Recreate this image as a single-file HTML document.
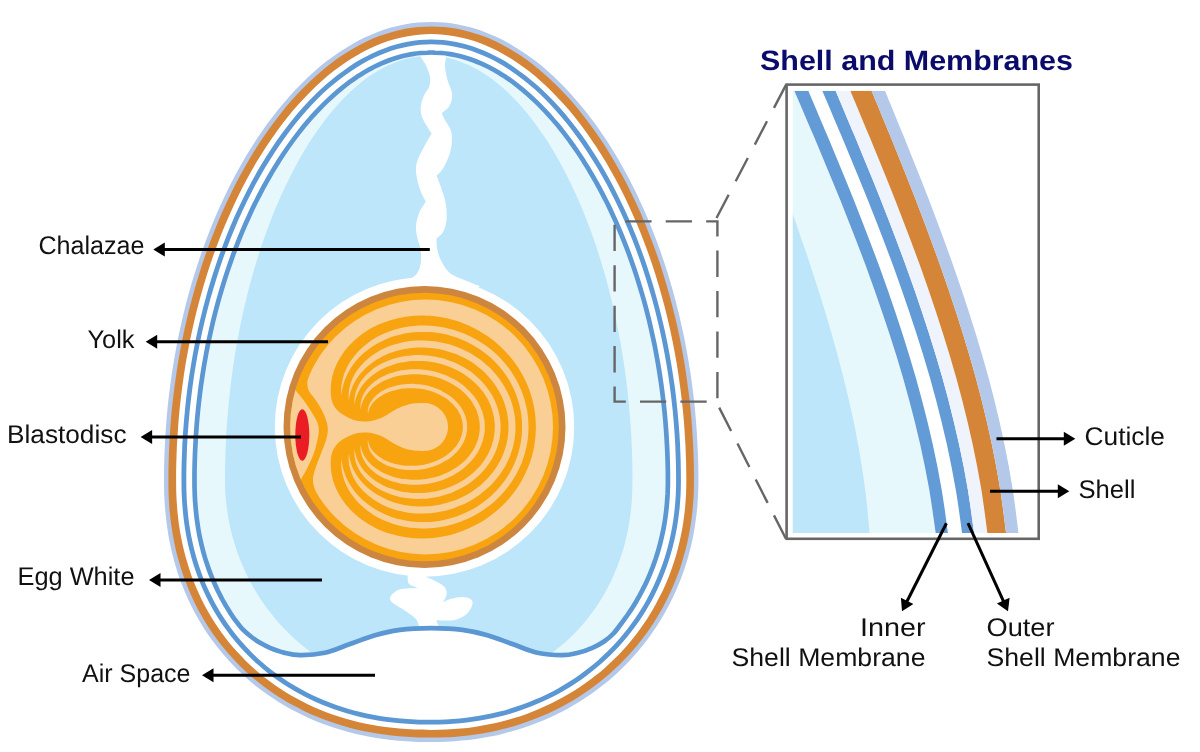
<!DOCTYPE html><html><head><meta charset="utf-8"><title>Egg</title><style>html,body{margin:0;padding:0;background:#fff}svg{display:block;will-change:transform}text{font-family:"Liberation Sans",sans-serif;text-rendering:geometricPrecision}</style></head><body>
<svg width="1200" height="752" viewBox="0 0 1200 752">
<rect width="1200" height="752" fill="#fff"/>
<defs><clipPath id="ce"><path d="M698.4,480C698.4,473.4 698.3,464 698,456C697.7,448.1 697.3,440.1 696.8,432.1C696.3,424.2 695.6,416.2 694.9,408.4C694.1,400.5 693.2,392.6 692.1,384.8C691.1,377 689.9,369.2 688.6,361.5C687.3,353.7 685.9,346.1 684.4,338.5C682.8,330.9 681.1,323.3 679.4,315.9C677.6,308.4 675.7,301 673.7,293.7C671.7,286.4 669.5,279.2 667.3,272.1C665.1,265 662.7,257.9 660.3,251C657.8,244.1 655.3,237.3 652.6,230.6C650,223.9 647.2,217.3 644.4,210.8C641.5,204.3 638.6,198 635.6,191.8C632.5,185.6 629.4,179.5 626.2,173.5C623,167.6 619.7,161.8 616.4,156.1C613,150.5 609.6,145 606,139.6C602.5,134.3 598.9,129.1 595.3,124.1C591.6,119 587.9,114.2 584.1,109.5C580.4,104.8 576.5,100.2 572.6,95.9C568.7,91.5 564.8,87.4 560.8,83.4C556.8,79.4 552.7,75.5 548.7,71.9C544.6,68.3 540.4,64.8 536.3,61.6C532.1,58.3 527.9,55.3 523.6,52.4C519.4,49.6 515.1,46.9 510.8,44.4C506.5,41.9 502.1,39.7 497.8,37.6C493.4,35.5 489,33.7 484.6,32C480.2,30.3 475.8,28.9 471.4,27.6C466.9,26.4 462.5,25.3 458,24.5C453.6,23.7 449.1,23 444.6,22.6C440.2,22.2 435.7,22 431.2,22C426.7,22 422.2,22.2 417.8,22.6C413.3,23 408.8,23.7 404.4,24.5C399.9,25.3 395.5,26.4 391,27.6C386.6,28.9 382.2,30.3 377.8,32C373.4,33.7 369,35.5 364.6,37.6C360.3,39.7 355.9,41.9 351.6,44.4C347.3,46.9 343,49.6 338.8,52.4C334.5,55.3 330.3,58.3 326.1,61.6C322,64.8 317.8,68.3 313.7,71.9C309.7,75.5 305.6,79.4 301.6,83.4C297.6,87.4 293.7,91.5 289.8,95.9C285.9,100.2 282,104.8 278.3,109.5C274.5,114.2 270.8,119 267.1,124.1C263.5,129.1 259.9,134.3 256.4,139.6C252.8,145 249.4,150.5 246,156.1C242.7,161.8 239.4,167.6 236.2,173.5C233,179.5 229.9,185.6 226.8,191.8C223.8,198 220.9,204.3 218,210.8C215.2,217.3 212.4,223.9 209.8,230.6C207.1,237.3 204.6,244.1 202.1,251C199.7,257.9 197.3,265 195.1,272.1C192.9,279.2 190.7,286.4 188.7,293.7C186.7,301 184.8,308.4 183,315.9C181.3,323.3 179.6,330.9 178,338.5C176.5,346.1 175.1,353.7 173.8,361.5C172.5,369.2 171.3,377 170.3,384.8C169.2,392.6 168.3,400.5 167.5,408.4C166.8,416.2 166.1,424.2 165.6,432.1C165.1,440.1 164.7,448.1 164.4,456C164.1,464 164,473.2 164,480C164,486.8 164.1,491.5 164.3,496.8C164.6,502.2 164.9,507.1 165.4,512.1C165.8,517 166.4,521.9 167.1,526.6C167.7,531.4 168.5,536.1 169.4,540.8C170.3,545.4 171.4,550 172.5,554.5C173.6,559 174.8,563.5 176.2,567.9C177.5,572.3 179,576.6 180.5,580.9C182.1,585.1 183.8,589.3 185.6,593.5C187.3,597.6 189.2,601.7 191.2,605.7C193.2,609.7 195.3,613.6 197.5,617.5C199.7,621.4 201.9,625.2 204.3,628.9C206.7,632.6 209.2,636.2 211.8,639.8C214.4,643.4 217.1,646.9 219.9,650.3C222.6,653.7 225.5,657 228.5,660.3C231.4,663.5 234.5,666.7 237.6,669.8C240.8,672.9 244,675.9 247.3,678.8C250.6,681.7 254,684.5 257.5,687.2C261,689.9 264.6,692.6 268.2,695.1C271.9,697.7 275.6,700.1 279.4,702.4C283.2,704.8 287,707 291,709.2C294.9,711.3 298.9,713.4 303,715.3C307.1,717.3 311.3,719.1 315.5,720.9C319.7,722.6 324,724.2 328.3,725.8C332.7,727.3 337.1,728.7 341.6,730.1C346.1,731.4 350.6,732.6 355.2,733.7C359.8,734.8 364.5,735.8 369.2,736.7C373.9,737.6 378.7,738.3 383.6,739C388.5,739.7 393.4,740.2 398.5,740.7C403.6,741.1 408.6,741.4 414,741.7C419.5,741.9 425.7,742 431.2,742C436.7,742 441.8,741.9 446.9,741.7C451.9,741.4 456.8,741.1 461.7,740.6C466.5,740.2 471.3,739.6 476.1,738.9C480.8,738.2 485.6,737.4 490.2,736.5C494.9,735.6 499.5,734.5 504,733.4C508.6,732.3 513.1,731 517.6,729.7C522,728.3 526.5,726.8 530.8,725.2C535.2,723.7 539.5,722 543.7,720.2C547.9,718.4 552.1,716.5 556.2,714.5C560.4,712.5 564.4,710.4 568.4,708.2C572.4,705.9 576.3,703.6 580.2,701.2C584,698.8 587.8,696.3 591.5,693.7C595.2,691.1 598.8,688.4 602.4,685.6C605.9,682.8 609.4,679.9 612.8,676.9C616.2,674 619.5,670.9 622.7,667.7C625.9,664.6 629,661.4 632,658C635.1,654.7 638,651.3 640.9,647.8C643.7,644.4 646.5,640.8 649.1,637.2C651.8,633.6 654.4,629.8 656.8,626.1C659.3,622.3 661.6,618.4 663.9,614.5C666.1,610.6 668.3,606.7 670.3,602.6C672.4,598.6 674.3,594.5 676.1,590.3C678,586.2 679.7,581.9 681.3,577.7C682.9,573.4 684.4,569.1 685.8,564.7C687.2,560.3 688.5,555.9 689.6,551.4C690.8,547 691.9,542.4 692.8,537.9C693.7,533.3 694.5,528.7 695.2,524C695.9,519.4 696.5,514.6 697,509.9C697.5,505.1 697.8,500.3 698,495.4C698.3,490.4 698.4,486.6 698.4,480Z"/></clipPath><clipPath id="cm"><path d="M622.2,622.3C624.4,619.4 625.3,618.1 626.8,616C628.3,613.8 629.8,611.6 631.3,609.4C632.7,607.2 634.1,605 635.5,602.7C636.8,600.5 638.1,598.2 639.4,595.9C640.7,593.5 641.9,591.2 643.1,588.8C644.3,586.5 645.5,584.1 646.6,581.7C647.7,579.3 648.8,576.8 649.8,574.4C650.8,571.9 651.8,569.4 652.8,566.9C653.7,564.4 654.6,561.9 655.5,559.3C656.3,556.8 657.2,554.2 657.9,551.6C658.7,549 659.4,546.4 660.1,543.8C660.8,541.1 661.4,538.5 662,535.8C662.6,533.1 663.2,530.4 663.7,527.7C664.2,525 664.7,522.2 665.1,519.5C665.5,516.7 665.9,513.9 666.2,511.1C666.5,508.3 666.8,505.5 667,502.6C667.3,499.7 667.4,496.9 667.6,493.9C667.7,491 667.8,488.5 667.9,484.9C667.9,481.3 667.9,477 667.9,472.3C667.8,467.7 667.7,462.1 667.5,457C667.4,451.9 667.1,446.8 666.8,441.8C666.6,436.7 666.2,431.6 665.8,426.5C665.5,421.5 665,416.4 664.5,411.4C664,406.3 663.4,401.3 662.8,396.3C662.2,391.3 661.6,386.3 660.8,381.3C660.1,376.4 659.3,371.4 658.5,366.5C657.7,361.6 656.8,356.7 655.9,351.8C655,346.9 654,342.1 652.9,337.3C651.9,332.5 650.8,327.7 649.7,322.9C648.6,318.2 647.4,313.5 646.2,308.8C644.9,304.1 643.7,299.5 642.3,294.9C641,290.3 639.6,285.7 638.2,281.2C636.8,276.7 635.3,272.2 633.8,267.8C632.3,263.4 630.8,259 629.2,254.6C627.6,250.3 625.9,246 624.3,241.8C622.6,237.5 620.9,233.4 619.1,229.2C617.4,225.1 615.6,221 613.7,217C611.9,213 610.1,209 608.2,205.1C606.2,201.2 604.3,197.4 602.3,193.6C600.4,189.9 598.4,186.1 596.3,182.5C594.3,178.8 592.2,175.3 590.1,171.7C588.1,168.2 585.9,164.8 583.8,161.4C581.6,158 579.5,154.7 577.3,151.5C575.1,148.2 572.9,145.1 570.6,142C568.4,138.9 566.1,135.9 563.8,132.9C561.5,130 559.2,127.1 556.9,124.3C554.6,121.6 552.3,118.9 549.9,116.2C547.5,113.6 545.2,111 542.8,108.6C540.4,106.1 538,103.7 535.6,101.4C533.2,99.1 530.8,96.9 528.4,94.7C526,92.6 523.6,90.5 521.2,88.6C518.7,86.6 516.3,84.7 513.9,82.9C511.4,81.1 509,79.3 506.6,77.7C504.1,76.1 501.7,74.5 499.3,73C496.8,71.6 494.4,70.2 492,68.8C489.5,67.5 487.1,66.3 484.7,65.2C482.3,64 479.9,62.9 477.5,62C475.1,61 472.7,60.1 470.3,59.2C467.9,58.4 465.5,57.7 463.1,57C460.7,56.3 458.3,55.7 456,55.2C453.6,54.7 451.2,54.2 448.9,53.9C446.5,53.5 444.1,53.2 441.8,53C439.4,52.8 437.1,52.6 434.7,52.6C432.4,52.5 430,52.5 427.7,52.6C425.3,52.6 423,52.8 420.6,53C418.3,53.2 415.9,53.5 413.5,53.9C411.2,54.2 408.8,54.7 406.4,55.2C404.1,55.7 401.7,56.3 399.3,57C396.9,57.7 394.5,58.4 392.1,59.2C389.7,60.1 387.3,61 384.9,62C382.5,62.9 380.1,64 377.7,65.2C375.3,66.3 372.9,67.5 370.4,68.8C368,70.2 365.6,71.6 363.1,73C360.7,74.5 358.3,76.1 355.8,77.7C353.4,79.3 351,81.1 348.5,82.9C346.1,84.7 343.7,86.6 341.2,88.6C338.8,90.5 336.4,92.6 334,94.7C331.6,96.9 329.2,99.1 326.8,101.4C324.4,103.7 322,106.1 319.6,108.6C317.2,111 314.9,113.6 312.5,116.2C310.1,118.9 307.8,121.6 305.5,124.3C303.2,127.1 300.9,130 298.6,132.9C296.3,135.9 294,138.9 291.8,142C289.5,145.1 287.3,148.2 285.1,151.5C282.9,154.7 280.8,158 278.6,161.4C276.5,164.8 274.3,168.2 272.3,171.7C270.2,175.3 268.1,178.8 266.1,182.5C264,186.1 262,189.9 260.1,193.6C258.1,197.4 256.2,201.2 254.2,205.1C252.3,209 250.5,213 248.7,217C246.8,221 245,225.1 243.3,229.2C241.5,233.4 239.8,237.5 238.1,241.8C236.5,246 234.8,250.3 233.2,254.6C231.6,259 230.1,263.4 228.6,267.8C227.1,272.2 225.6,276.7 224.2,281.2C222.8,285.7 221.4,290.3 220.1,294.9C218.7,299.5 217.5,304.1 216.2,308.8C215,313.5 213.8,318.2 212.7,322.9C211.6,327.7 210.5,332.5 209.5,337.3C208.4,342.1 207.4,346.9 206.5,351.8C205.6,356.7 204.7,361.6 203.9,366.5C203.1,371.4 202.3,376.4 201.6,381.3C200.8,386.3 200.2,391.3 199.6,396.3C199,401.3 198.4,406.3 197.9,411.4C197.4,416.4 196.9,421.5 196.6,426.5C196.2,431.6 195.8,436.7 195.6,441.8C195.3,446.8 195,451.9 194.9,457C194.7,462.1 194.6,467.6 194.5,472.3C194.5,477.1 194.5,481.8 194.5,485.7C194.6,489.5 194.7,492.3 194.8,495.5C194.9,498.7 195.1,501.8 195.4,504.8C195.6,507.8 195.9,510.8 196.2,513.7C196.5,516.6 196.9,519.5 197.3,522.4C197.7,525.2 198.1,528 198.6,530.8C199.1,533.6 199.6,536.3 200.2,539.1C200.8,541.8 201.4,544.5 202.1,547.1C202.7,549.8 203.4,552.4 204.2,555C204.9,557.7 205.7,560.2 206.6,562.8C207.4,565.3 208.3,567.9 209.2,570.4C210.1,572.9 211.1,575.3 212.1,577.8C213.1,580.2 214.1,582.7 215.2,585C216.2,587.4 217.4,589.8 218.5,592.1C219.7,594.5 220.9,596.8 222.1,599.1C223.4,601.3 224.6,603.6 225.9,605.8C227.3,608 228.6,610.2 230,612.4C231.4,614.5 232.2,616 234.3,618.8C236.4,621.6 239.6,626.2 242.5,629.2C245.4,632.2 248.5,634.7 251.5,637C254.5,639.3 257.4,641.2 260.5,643C263.6,644.8 266.1,646.1 270,647.8C273.9,649.4 279,651.4 284,652.6C289,653.9 293.2,655.2 300,655.2C306.8,655.3 316.7,654.6 325,652.8C333.3,650.9 341.7,646.9 350,644C358.3,641.1 366.7,637.6 375,635.2C383.3,632.9 390.6,631 400,629.8C409.4,628.6 420.8,628.2 431.2,628.2C441.6,628.2 453,628.6 462.4,629.8C471.8,631 479.1,632.8 487.4,635.2C495.7,637.6 504.1,641.1 512.4,644C520.7,646.9 529.1,650.9 537.4,652.8C545.7,654.7 555.6,655.2 562.4,655.2C569.2,655.2 573,654 578,652.8C583,651.6 588.1,649.7 592.4,647.8C596.7,645.9 600.5,643.9 604,641.5C607.5,639.1 610.5,636.7 613.5,633.5C616.5,630.3 619.9,625.3 622.2,622.3Z"/></clipPath><clipPath id="cy"><circle cx="424.5" cy="427.0" r="134.3"/></clipPath><clipPath id="ci"><rect x="792.8" y="90.7" width="240" height="442.3"/></clipPath></defs>
<path d="M698.4,480C698.4,473.4 698.3,464 698,456C697.7,448.1 697.3,440.1 696.8,432.1C696.3,424.2 695.6,416.2 694.9,408.4C694.1,400.5 693.2,392.6 692.1,384.8C691.1,377 689.9,369.2 688.6,361.5C687.3,353.7 685.9,346.1 684.4,338.5C682.8,330.9 681.1,323.3 679.4,315.9C677.6,308.4 675.7,301 673.7,293.7C671.7,286.4 669.5,279.2 667.3,272.1C665.1,265 662.7,257.9 660.3,251C657.8,244.1 655.3,237.3 652.6,230.6C650,223.9 647.2,217.3 644.4,210.8C641.5,204.3 638.6,198 635.6,191.8C632.5,185.6 629.4,179.5 626.2,173.5C623,167.6 619.7,161.8 616.4,156.1C613,150.5 609.6,145 606,139.6C602.5,134.3 598.9,129.1 595.3,124.1C591.6,119 587.9,114.2 584.1,109.5C580.4,104.8 576.5,100.2 572.6,95.9C568.7,91.5 564.8,87.4 560.8,83.4C556.8,79.4 552.7,75.5 548.7,71.9C544.6,68.3 540.4,64.8 536.3,61.6C532.1,58.3 527.9,55.3 523.6,52.4C519.4,49.6 515.1,46.9 510.8,44.4C506.5,41.9 502.1,39.7 497.8,37.6C493.4,35.5 489,33.7 484.6,32C480.2,30.3 475.8,28.9 471.4,27.6C466.9,26.4 462.5,25.3 458,24.5C453.6,23.7 449.1,23 444.6,22.6C440.2,22.2 435.7,22 431.2,22C426.7,22 422.2,22.2 417.8,22.6C413.3,23 408.8,23.7 404.4,24.5C399.9,25.3 395.5,26.4 391,27.6C386.6,28.9 382.2,30.3 377.8,32C373.4,33.7 369,35.5 364.6,37.6C360.3,39.7 355.9,41.9 351.6,44.4C347.3,46.9 343,49.6 338.8,52.4C334.5,55.3 330.3,58.3 326.1,61.6C322,64.8 317.8,68.3 313.7,71.9C309.7,75.5 305.6,79.4 301.6,83.4C297.6,87.4 293.7,91.5 289.8,95.9C285.9,100.2 282,104.8 278.3,109.5C274.5,114.2 270.8,119 267.1,124.1C263.5,129.1 259.9,134.3 256.4,139.6C252.8,145 249.4,150.5 246,156.1C242.7,161.8 239.4,167.6 236.2,173.5C233,179.5 229.9,185.6 226.8,191.8C223.8,198 220.9,204.3 218,210.8C215.2,217.3 212.4,223.9 209.8,230.6C207.1,237.3 204.6,244.1 202.1,251C199.7,257.9 197.3,265 195.1,272.1C192.9,279.2 190.7,286.4 188.7,293.7C186.7,301 184.8,308.4 183,315.9C181.3,323.3 179.6,330.9 178,338.5C176.5,346.1 175.1,353.7 173.8,361.5C172.5,369.2 171.3,377 170.3,384.8C169.2,392.6 168.3,400.5 167.5,408.4C166.8,416.2 166.1,424.2 165.6,432.1C165.1,440.1 164.7,448.1 164.4,456C164.1,464 164,473.2 164,480C164,486.8 164.1,491.5 164.3,496.8C164.6,502.2 164.9,507.1 165.4,512.1C165.8,517 166.4,521.9 167.1,526.6C167.7,531.4 168.5,536.1 169.4,540.8C170.3,545.4 171.4,550 172.5,554.5C173.6,559 174.8,563.5 176.2,567.9C177.5,572.3 179,576.6 180.5,580.9C182.1,585.1 183.8,589.3 185.6,593.5C187.3,597.6 189.2,601.7 191.2,605.7C193.2,609.7 195.3,613.6 197.5,617.5C199.7,621.4 201.9,625.2 204.3,628.9C206.7,632.6 209.2,636.2 211.8,639.8C214.4,643.4 217.1,646.9 219.9,650.3C222.6,653.7 225.5,657 228.5,660.3C231.4,663.5 234.5,666.7 237.6,669.8C240.8,672.9 244,675.9 247.3,678.8C250.6,681.7 254,684.5 257.5,687.2C261,689.9 264.6,692.6 268.2,695.1C271.9,697.7 275.6,700.1 279.4,702.4C283.2,704.8 287,707 291,709.2C294.9,711.3 298.9,713.4 303,715.3C307.1,717.3 311.3,719.1 315.5,720.9C319.7,722.6 324,724.2 328.3,725.8C332.7,727.3 337.1,728.7 341.6,730.1C346.1,731.4 350.6,732.6 355.2,733.7C359.8,734.8 364.5,735.8 369.2,736.7C373.9,737.6 378.7,738.3 383.6,739C388.5,739.7 393.4,740.2 398.5,740.7C403.6,741.1 408.6,741.4 414,741.7C419.5,741.9 425.7,742 431.2,742C436.7,742 441.8,741.9 446.9,741.7C451.9,741.4 456.8,741.1 461.7,740.6C466.5,740.2 471.3,739.6 476.1,738.9C480.8,738.2 485.6,737.4 490.2,736.5C494.9,735.6 499.5,734.5 504,733.4C508.6,732.3 513.1,731 517.6,729.7C522,728.3 526.5,726.8 530.8,725.2C535.2,723.7 539.5,722 543.7,720.2C547.9,718.4 552.1,716.5 556.2,714.5C560.4,712.5 564.4,710.4 568.4,708.2C572.4,705.9 576.3,703.6 580.2,701.2C584,698.8 587.8,696.3 591.5,693.7C595.2,691.1 598.8,688.4 602.4,685.6C605.9,682.8 609.4,679.9 612.8,676.9C616.2,674 619.5,670.9 622.7,667.7C625.9,664.6 629,661.4 632,658C635.1,654.7 638,651.3 640.9,647.8C643.7,644.4 646.5,640.8 649.1,637.2C651.8,633.6 654.4,629.8 656.8,626.1C659.3,622.3 661.6,618.4 663.9,614.5C666.1,610.6 668.3,606.7 670.3,602.6C672.4,598.6 674.3,594.5 676.1,590.3C678,586.2 679.7,581.9 681.3,577.7C682.9,573.4 684.4,569.1 685.8,564.7C687.2,560.3 688.5,555.9 689.6,551.4C690.8,547 691.9,542.4 692.8,537.9C693.7,533.3 694.5,528.7 695.2,524C695.9,519.4 696.5,514.6 697,509.9C697.5,505.1 697.8,500.3 698,495.4C698.3,490.4 698.4,486.6 698.4,480Z" fill="#b4c8ea"/>
<path d="M694,480C694,473.5 693.9,464.1 693.6,456.2C693.3,448.2 693,440.3 692.4,432.4C691.9,424.5 691.3,416.6 690.5,408.8C689.7,400.9 688.8,393.1 687.7,385.4C686.7,377.6 685.5,369.9 684.3,362.2C683,354.5 681.6,346.9 680,339.3C678.5,331.8 676.9,324.3 675.1,316.9C673.3,309.5 671.4,302.1 669.4,294.9C667.4,287.6 665.3,280.5 663.1,273.4C660.9,266.3 658.6,259.3 656.1,252.5C653.7,245.6 651.2,238.8 648.5,232.2C645.9,225.5 643.2,219 640.4,212.6C637.5,206.2 634.6,199.9 631.6,193.7C628.6,187.5 625.5,181.5 622.3,175.6C619.2,169.7 615.9,164 612.6,158.4C609.2,152.8 605.8,147.3 602.4,142.1C598.9,136.8 595.3,131.6 591.7,126.7C588.1,121.7 584.4,116.9 580.7,112.2C577,107.6 573.2,103.1 569.4,98.8C565.5,94.5 561.6,90.4 557.7,86.5C553.7,82.5 549.8,78.8 545.7,75.2C541.7,71.6 537.6,68.3 533.5,65.1C529.5,61.9 525.3,58.9 521.2,56.1C517,53.3 512.8,50.6 508.6,48.2C504.4,45.8 500.1,43.6 495.9,41.6C491.6,39.6 487.4,37.7 483.1,36.1C478.8,34.5 474.5,33.1 470.2,31.9C465.9,30.7 461.5,29.6 457.2,28.8C452.9,28 448.6,27.4 444.2,27C439.9,26.6 435.5,26.4 431.2,26.4C426.9,26.4 422.5,26.6 418.2,27C413.8,27.4 409.5,28 405.2,28.8C400.9,29.6 396.5,30.7 392.2,31.9C387.9,33.1 383.6,34.5 379.3,36.1C375,37.7 370.8,39.6 366.5,41.6C362.3,43.6 358,45.8 353.8,48.2C349.6,50.6 345.4,53.3 341.2,56.1C337.1,58.9 332.9,61.9 328.9,65.1C324.8,68.3 320.7,71.6 316.7,75.2C312.6,78.8 308.7,82.5 304.7,86.5C300.8,90.4 296.9,94.5 293,98.8C289.2,103.1 285.4,107.6 281.7,112.2C278,116.9 274.3,121.7 270.7,126.7C267.1,131.6 263.5,136.8 260,142.1C256.6,147.3 253.2,152.8 249.8,158.4C246.5,164 243.2,169.7 240.1,175.6C236.9,181.5 233.8,187.5 230.8,193.7C227.8,199.9 224.9,206.2 222,212.6C219.2,219 216.5,225.5 213.9,232.2C211.2,238.8 208.7,245.6 206.3,252.5C203.8,259.3 201.5,266.3 199.3,273.4C197.1,280.5 195,287.6 193,294.9C191,302.1 189.1,309.5 187.3,316.9C185.5,324.3 183.9,331.8 182.4,339.3C180.8,346.9 179.4,354.5 178.1,362.2C176.9,369.9 175.7,377.6 174.7,385.4C173.6,393.1 172.7,400.9 171.9,408.8C171.1,416.6 170.5,424.5 170,432.4C169.4,440.3 169.1,448.2 168.8,456.2C168.5,464.1 168.4,473.3 168.4,480C168.4,486.7 168.5,491.4 168.7,496.7C169,501.9 169.3,506.8 169.7,511.7C170.2,516.6 170.7,521.3 171.4,526C172.1,530.7 172.9,535.4 173.8,539.9C174.6,544.5 175.6,549 176.7,553.5C177.9,557.9 179.1,562.3 180.4,566.6C181.7,570.9 183.1,575.2 184.7,579.3C186.2,583.5 187.9,587.7 189.6,591.7C191.3,595.8 193.2,599.8 195.1,603.7C197.1,607.7 199.1,611.5 201.3,615.3C203.4,619.1 205.7,622.8 208,626.5C210.4,630.1 212.8,633.7 215.4,637.2C217.9,640.7 220.5,644.2 223.3,647.5C226,650.9 228.8,654.1 231.7,657.3C234.6,660.5 237.6,663.6 240.7,666.7C243.8,669.7 247,672.6 250.2,675.5C253.5,678.3 256.8,681.1 260.2,683.8C263.7,686.4 267.2,689 270.7,691.5C274.3,694 278,696.4 281.7,698.7C285.4,701 289.2,703.2 293.1,705.3C297,707.4 300.9,709.4 304.9,711.4C308.9,713.3 313,715.1 317.2,716.8C321.3,718.5 325.5,720.1 329.8,721.6C334.1,723.1 338.4,724.5 342.8,725.8C347.2,727.1 351.7,728.3 356.2,729.4C360.8,730.5 365.4,731.5 370,732.3C374.7,733.2 379.4,734 384.2,734.6C389,735.3 393.9,735.8 398.9,736.3C403.9,736.7 408.8,737.1 414.2,737.3C419.6,737.5 425.8,737.6 431.2,737.6C436.6,737.6 441.7,737.5 446.7,737.3C451.7,737 456.5,736.7 461.3,736.2C466.1,735.8 470.8,735.2 475.5,734.5C480.1,733.9 484.8,733.1 489.4,732.2C494,731.3 498.5,730.3 503,729.1C507.5,728 511.9,726.8 516.3,725.4C520.7,724.1 525,722.7 529.3,721.1C533.6,719.6 537.8,717.9 542,716.1C546.2,714.4 550.3,712.5 554.3,710.5C558.4,708.6 562.4,706.5 566.3,704.3C570.2,702.1 574.1,699.9 577.8,697.5C581.6,695.1 585.3,692.7 589,690.1C592.6,687.5 596.2,684.9 599.7,682.1C603.1,679.4 606.5,676.6 609.9,673.6C613.2,670.7 616.4,667.7 619.6,664.6C622.7,661.5 625.8,658.3 628.8,655.1C631.8,651.8 634.7,648.5 637.5,645.1C640.3,641.6 643,638.1 645.6,634.6C648.2,631 650.7,627.4 653.1,623.7C655.5,620 657.9,616.2 660.1,612.3C662.3,608.5 664.4,604.6 666.4,600.6C668.4,596.7 670.3,592.6 672.1,588.5C673.9,584.5 675.6,580.3 677.2,576.1C678.8,571.9 680.3,567.7 681.6,563.4C683,559.1 684.2,554.7 685.4,550.3C686.5,545.9 687.6,541.5 688.5,537C689.4,532.5 690.2,528 690.9,523.4C691.6,518.8 692.2,514.1 692.6,509.4C693.1,504.7 693.4,500.1 693.7,495.1C693.9,490.2 694,486.5 694,480Z" fill="#d58538"/>
<path d="M686.3,480C686.3,473.6 686.2,464.3 685.9,456.4C685.7,448.6 685.3,440.7 684.7,432.9C684.2,425.1 683.6,417.3 682.8,409.6C682,401.8 681.1,394.1 680.1,386.4C679.1,378.7 677.9,371 676.7,363.5C675.4,355.9 674,348.3 672.5,340.9C671,333.4 669.3,326 667.6,318.7C665.9,311.3 664,304.1 662,296.9C660,289.8 658,282.7 655.8,275.7C653.6,268.7 651.3,261.8 648.9,255C646.5,248.3 644,241.6 641.4,235C638.8,228.4 636.1,222 633.3,215.7C630.5,209.3 627.6,203.1 624.7,197.1C621.7,191 618.7,185.1 615.6,179.3C612.4,173.5 609.2,167.8 606,162.3C602.7,156.8 599.3,151.5 595.9,146.3C592.5,141.1 589,136 585.5,131.2C582,126.3 578.4,121.6 574.7,117.1C571.1,112.5 567.4,108.1 563.6,104C559.9,99.8 556.1,95.7 552.2,91.9C548.4,88.1 544.5,84.4 540.6,81C536.7,77.5 532.8,74.2 528.8,71.1C524.9,68.1 520.9,65.2 516.9,62.5C512.8,59.7 508.8,57.2 504.8,54.9C500.7,52.6 496.7,50.5 492.6,48.5C488.5,46.6 484.4,44.9 480.4,43.3C476.3,41.8 472.2,40.4 468.1,39.3C464,38.1 459.9,37.2 455.8,36.4C451.7,35.6 447.6,35.1 443.5,34.7C439.4,34.3 435.3,34.1 431.2,34.1C427.1,34.1 423,34.3 418.9,34.7C414.8,35.1 410.7,35.6 406.6,36.4C402.5,37.2 398.4,38.1 394.3,39.3C390.2,40.4 386.1,41.8 382,43.3C378,44.9 373.9,46.6 369.8,48.5C365.7,50.5 361.7,52.6 357.6,54.9C353.6,57.2 349.6,59.7 345.5,62.5C341.5,65.2 337.5,68.1 333.6,71.1C329.6,74.2 325.7,77.5 321.8,81C317.9,84.4 314,88.1 310.2,91.9C306.3,95.7 302.5,99.8 298.8,104C295,108.1 291.3,112.5 287.7,117.1C284,121.6 280.4,126.3 276.9,131.2C273.4,136 269.9,141.1 266.5,146.3C263.1,151.5 259.7,156.8 256.4,162.3C253.2,167.8 250,173.5 246.8,179.3C243.7,185.1 240.7,191 237.7,197.1C234.8,203.1 231.9,209.3 229.1,215.7C226.3,222 223.6,228.4 221,235C218.4,241.6 215.9,248.3 213.5,255C211.1,261.8 208.8,268.7 206.6,275.7C204.4,282.7 202.4,289.8 200.4,296.9C198.4,304.1 196.5,311.3 194.8,318.7C193.1,326 191.4,333.4 189.9,340.9C188.4,348.3 187,355.9 185.7,363.5C184.5,371 183.3,378.7 182.3,386.4C181.3,394.1 180.4,401.8 179.6,409.6C178.8,417.3 178.2,425.1 177.7,432.9C177.1,440.7 176.7,448.6 176.5,456.4C176.2,464.3 176.1,473.4 176.1,480C176.1,486.7 176.2,491.2 176.4,496.3C176.6,501.5 177,506.2 177.4,511C177.8,515.7 178.4,520.4 179,524.9C179.7,529.5 180.4,534 181.3,538.5C182.2,542.9 183.1,547.3 184.2,551.6C185.3,555.9 186.5,560.1 187.8,564.3C189,568.5 190.4,572.6 191.9,576.7C193.4,580.8 195,584.8 196.7,588.7C198.4,592.6 200.2,596.5 202,600.3C203.9,604.1 205.9,607.9 208,611.5C210.1,615.2 212.2,618.8 214.5,622.3C216.8,625.9 219.2,629.3 221.6,632.7C224.1,636.1 226.6,639.4 229.2,642.7C231.9,645.9 234.6,649.1 237.4,652.1C240.2,655.2 243.1,658.2 246.1,661.2C249.1,664.1 252.2,666.9 255.3,669.7C258.4,672.4 261.7,675.1 265,677.7C268.3,680.3 271.7,682.8 275.1,685.2C278.6,687.6 282.1,689.9 285.7,692.2C289.3,694.4 293,696.5 296.8,698.6C300.5,700.6 304.3,702.6 308.2,704.4C312.1,706.3 316.1,708 320.1,709.7C324.1,711.3 328.2,712.9 332.4,714.4C336.5,715.8 340.7,717.2 345,718.4C349.3,719.7 353.6,720.9 358,721.9C362.4,723 366.9,723.9 371.4,724.8C376,725.6 380.6,726.4 385.3,727C390,727.6 394.7,728.2 399.6,728.6C404.4,729 409.3,729.4 414.5,729.6C419.8,729.8 425.9,729.9 431.2,729.9C436.5,729.9 441.4,729.8 446.3,729.6C451.2,729.3 455.9,729 460.5,728.6C465.2,728.1 469.8,727.6 474.4,726.9C478.9,726.3 483.4,725.5 487.9,724.6C492.3,723.7 496.8,722.8 501.1,721.7C505.5,720.6 509.8,719.4 514.1,718.1C518.3,716.8 522.5,715.4 526.7,713.9C530.8,712.4 534.9,710.8 539,709C543,707.3 547,705.5 551,703.6C554.9,701.7 558.7,699.7 562.5,697.6C566.3,695.5 570.1,693.3 573.7,691C577.4,688.7 581,686.3 584.5,683.8C588.1,681.3 591.5,678.7 594.9,676.1C598.3,673.4 601.6,670.7 604.8,667.9C608,665 611.1,662.1 614.2,659.1C617.3,656.1 620.2,653 623.1,649.9C626,646.7 628.8,643.5 631.5,640.2C634.2,636.9 636.8,633.5 639.4,630C641.9,626.6 644.3,623.1 646.7,619.5C649,615.9 651.3,612.2 653.4,608.5C655.5,604.8 657.6,601 659.5,597.1C661.5,593.3 663.3,589.4 665.1,585.4C666.8,581.5 668.5,577.5 670,573.4C671.5,569.3 673,565.2 674.3,561C675.6,556.9 676.8,552.7 677.9,548.4C679,544.1 680,539.8 680.9,535.4C681.8,531.1 682.6,526.7 683.3,522.2C683.9,517.8 684.5,513.3 685,508.7C685.4,504.1 685.7,499.6 686,494.8C686.2,490 686.3,486.4 686.3,480Z" fill="#fff"/>
<path d="M680.9,480C680.9,473.7 680.8,464.4 680.5,456.6C680.3,448.8 679.9,441 679.4,433.3C678.8,425.5 678.2,417.8 677.4,410.1C676.7,402.4 675.8,394.7 674.8,387.1C673.7,379.5 672.6,371.9 671.3,364.4C670.1,356.8 668.7,349.3 667.2,341.9C665.7,334.5 664.1,327.2 662.3,319.9C660.6,312.7 658.8,305.5 656.8,298.4C654.9,291.3 652.8,284.2 650.6,277.3C648.4,270.4 646.2,263.6 643.8,256.8C641.4,250.1 638.9,243.5 636.4,237C633.8,230.5 631.1,224.1 628.4,217.8C625.6,211.6 622.8,205.4 619.8,199.4C616.9,193.4 613.9,187.6 610.8,181.8C607.7,176.1 604.6,170.5 601.3,165.1C598.1,159.7 594.8,154.4 591.4,149.2C588,144.1 584.6,139.1 581.1,134.3C577.6,129.5 574.1,124.9 570.5,120.4C566.9,116 563.3,111.7 559.6,107.6C555.9,103.4 552.2,99.5 548.4,95.7C544.7,92 540.9,88.4 537,85C533.2,81.6 529.4,78.4 525.5,75.4C521.6,72.4 517.7,69.6 513.8,66.9C509.9,64.3 506,61.9 502.1,59.6C498.2,57.3 494.2,55.3 490.3,53.4C486.3,51.5 482.4,49.9 478.4,48.4C474.5,46.9 470.6,45.6 466.6,44.5C462.7,43.4 458.7,42.4 454.8,41.7C450.9,41 446.9,40.4 443,40.1C439.1,39.7 435.1,39.5 431.2,39.5C427.3,39.5 423.3,39.7 419.4,40.1C415.5,40.4 411.5,41 407.6,41.7C403.7,42.4 399.7,43.4 395.8,44.5C391.8,45.6 387.9,46.9 384,48.4C380,49.9 376.1,51.5 372.1,53.4C368.2,55.3 364.2,57.3 360.3,59.6C356.4,61.9 352.5,64.3 348.6,66.9C344.7,69.6 340.8,72.4 336.9,75.4C333,78.4 329.2,81.6 325.4,85C321.5,88.4 317.7,92 314,95.7C310.2,99.5 306.5,103.4 302.8,107.6C299.1,111.7 295.5,116 291.9,120.4C288.3,124.9 284.8,129.5 281.3,134.3C277.8,139.1 274.4,144.1 271,149.2C267.6,154.4 264.3,159.7 261.1,165.1C257.8,170.5 254.7,176.1 251.6,181.8C248.5,187.6 245.5,193.4 242.6,199.4C239.6,205.4 236.8,211.6 234,217.8C231.3,224.1 228.6,230.5 226,237C223.5,243.5 221,250.1 218.6,256.8C216.2,263.6 214,270.4 211.8,277.3C209.6,284.2 207.5,291.3 205.6,298.4C203.6,305.5 201.8,312.7 200.1,319.9C198.3,327.2 196.7,334.5 195.2,341.9C193.7,349.3 192.3,356.8 191.1,364.4C189.8,371.9 188.7,379.5 187.6,387.1C186.6,394.7 185.7,402.4 185,410.1C184.2,417.8 183.6,425.5 183,433.3C182.5,441 182.1,448.8 181.9,456.6C181.6,464.4 181.5,473.4 181.5,480C181.5,486.6 181.6,491 181.8,496.1C182,501.2 182.4,505.8 182.8,510.5C183.2,515.1 183.8,519.7 184.4,524.2C185,528.7 185.8,533.1 186.6,537.4C187.5,541.8 188.4,546.1 189.5,550.3C190.5,554.5 191.7,558.7 192.9,562.7C194.2,566.8 195.5,570.9 197,574.8C198.4,578.8 200,582.7 201.6,586.6C203.3,590.4 205,594.2 206.9,597.9C208.7,601.6 210.7,605.3 212.7,608.9C214.7,612.4 216.8,616 219.1,619.4C221.3,622.9 223.6,626.2 226,629.5C228.4,632.9 230.9,636.1 233.4,639.3C236,642.4 238.7,645.5 241.4,648.5C244.2,651.5 247,654.4 249.9,657.3C252.8,660.2 255.8,662.9 258.9,665.6C261.9,668.3 265.1,670.9 268.3,673.4C271.5,676 274.8,678.4 278.2,680.8C281.6,683.1 285,685.4 288.6,687.6C292.1,689.7 295.7,691.8 299.4,693.8C303,695.8 306.8,697.7 310.6,699.5C314.4,701.3 318.2,703.1 322.2,704.7C326.1,706.3 330.1,707.8 334.1,709.3C338.2,710.7 342.3,712 346.5,713.3C350.7,714.5 355,715.6 359.3,716.7C363.6,717.7 368,718.6 372.4,719.5C376.9,720.3 381.4,721 386,721.7C390.6,722.3 395.2,722.8 400,723.2C404.8,723.7 409.6,724 414.8,724.2C419.9,724.4 426,724.5 431.2,724.5C436.4,724.5 441.3,724.4 446.1,724.2C450.9,724 455.4,723.6 460,723.2C464.6,722.8 469.1,722.2 473.6,721.6C478.1,720.9 482.5,720.2 486.8,719.3C491.2,718.5 495.5,717.5 499.8,716.4C504.1,715.4 508.3,714.2 512.5,712.9C516.7,711.6 520.8,710.3 524.8,708.8C528.9,707.3 532.9,705.7 536.9,704.1C540.8,702.4 544.7,700.6 548.6,698.7C552.4,696.9 556.2,694.9 559.9,692.9C563.6,690.8 567.3,688.6 570.9,686.4C574.5,684.1 578,681.8 581.4,679.4C584.9,677 588.2,674.4 591.5,671.8C594.8,669.3 598.1,666.6 601.2,663.8C604.4,661 607.4,658.2 610.4,655.3C613.4,652.3 616.3,649.3 619.1,646.2C622,643.1 624.7,640 627.3,636.8C630,633.5 632.5,630.2 635,626.8C637.5,623.5 639.9,620 642.2,616.5C644.4,613 646.6,609.4 648.7,605.8C650.8,602.2 652.8,598.5 654.7,594.7C656.6,591 658.4,587.1 660.1,583.3C661.8,579.4 663.4,575.5 664.9,571.5C666.4,567.5 667.8,563.5 669.1,559.4C670.4,555.3 671.6,551.2 672.7,547C673.8,542.9 674.8,538.6 675.6,534.4C676.5,530.1 677.3,525.8 677.9,521.4C678.6,517 679.1,512.6 679.6,508.2C680,503.7 680.3,499.2 680.6,494.5C680.8,489.8 680.9,486.3 680.9,480Z" fill="#5b97d3"/>
<path d="M676.1,480C676.1,473.8 676,464.5 675.7,456.8C675.5,449 675.1,441.3 674.6,433.6C674.1,425.9 673.4,418.2 672.7,410.6C671.9,402.9 671,395.3 670,387.7C669,380.2 667.9,372.6 666.6,365.1C665.4,357.7 664,350.2 662.5,342.9C661,335.5 659.4,328.2 657.7,321C656,313.8 654.1,306.7 652.2,299.6C650.2,292.6 648.2,285.6 646,278.7C643.9,271.9 641.6,265.1 639.3,258.4C636.9,251.8 634.4,245.2 631.9,238.8C629.3,232.3 626.7,226 624,219.8C621.2,213.6 618.4,207.5 615.5,201.5C612.6,195.6 609.6,189.8 606.6,184.1C603.5,178.5 600.4,172.9 597.2,167.5C594,162.2 590.7,156.9 587.4,151.9C584.1,146.8 580.7,141.9 577.2,137.2C573.8,132.4 570.3,127.8 566.8,123.4C563.2,119 559.6,114.8 556,110.8C552.4,106.7 548.7,102.8 545,99.1C541.3,95.4 537.6,91.9 533.9,88.6C530.1,85.3 526.3,82.1 522.5,79.2C518.8,76.2 515,73.5 511.1,70.9C507.3,68.3 503.5,66 499.7,63.8C495.9,61.6 492,59.6 488.2,57.8C484.4,55.9 480.6,54.3 476.8,52.9C472.9,51.4 469.1,50.2 465.3,49.1C461.5,48 457.7,47.1 453.9,46.4C450.1,45.7 446.3,45.2 442.5,44.8C438.8,44.5 435,44.3 431.2,44.3C427.4,44.3 423.6,44.5 419.9,44.8C416.1,45.2 412.3,45.7 408.5,46.4C404.7,47.1 400.9,48 397.1,49.1C393.3,50.2 389.5,51.4 385.6,52.9C381.8,54.3 378,55.9 374.2,57.8C370.4,59.6 366.5,61.6 362.7,63.8C358.9,66 355.1,68.3 351.3,70.9C347.4,73.5 343.6,76.2 339.9,79.2C336.1,82.1 332.3,85.3 328.5,88.6C324.8,91.9 321.1,95.4 317.4,99.1C313.7,102.8 310,106.7 306.4,110.8C302.8,114.8 299.2,119 295.6,123.4C292.1,127.8 288.6,132.4 285.2,137.2C281.7,141.9 278.3,146.8 275,151.9C271.7,156.9 268.4,162.2 265.2,167.5C262,172.9 258.9,178.5 255.8,184.1C252.8,189.8 249.8,195.6 246.9,201.5C244,207.5 241.2,213.6 238.4,219.8C235.7,226 233.1,232.3 230.5,238.8C228,245.2 225.5,251.8 223.1,258.4C220.8,265.1 218.5,271.9 216.4,278.7C214.2,285.6 212.2,292.6 210.2,299.6C208.3,306.7 206.4,313.8 204.7,321C203,328.2 201.4,335.5 199.9,342.9C198.4,350.2 197,357.7 195.8,365.1C194.5,372.6 193.4,380.2 192.4,387.7C191.4,395.3 190.5,402.9 189.7,410.6C189,418.2 188.3,425.9 187.8,433.6C187.3,441.3 186.9,449 186.7,456.8C186.4,464.5 186.3,473.5 186.3,480C186.3,486.5 186.4,490.9 186.6,495.9C186.8,500.9 187.1,505.4 187.6,510C188,514.6 188.5,519.1 189.1,523.5C189.8,527.9 190.5,532.3 191.3,536.5C192.2,540.8 193.1,545 194.1,549.1C195.1,553.3 196.3,557.3 197.5,561.3C198.7,565.4 200.1,569.3 201.5,573.2C202.9,577.1 204.4,580.9 206,584.7C207.7,588.4 209.4,592.1 211.2,595.8C213,599.4 214.9,603 216.9,606.5C218.9,610 220.9,613.4 223.1,616.8C225.3,620.2 227.5,623.5 229.9,626.7C232.2,630 234.6,633.1 237.2,636.2C239.7,639.3 242.3,642.3 245,645.3C247.6,648.2 250.4,651.1 253.2,653.9C256.1,656.7 259,659.4 262,662C265,664.6 268.1,667.2 271.3,669.7C274.4,672.1 277.7,674.5 281,676.8C284.3,679.1 287.6,681.3 291.1,683.5C294.5,685.6 298.1,687.7 301.6,689.6C305.2,691.6 308.9,693.4 312.6,695.2C316.3,697 320.1,698.7 324,700.2C327.8,701.8 331.8,703.3 335.7,704.7C339.7,706.1 343.8,707.4 347.9,708.7C352,709.9 356.2,711 360.4,712C364.6,713 368.9,713.9 373.3,714.8C377.7,715.6 382.1,716.3 386.6,716.9C391.2,717.5 395.7,718 400.5,718.5C405.2,718.9 409.8,719.2 415,719.4C420.1,719.6 426,719.7 431.2,719.7C436.3,719.7 441.1,719.6 445.8,719.4C450.6,719.2 455.1,718.8 459.6,718.4C464.1,718 468.5,717.5 472.9,716.8C477.3,716.2 481.6,715.5 485.9,714.6C490.2,713.8 494.4,712.8 498.6,711.8C502.8,710.7 507,709.6 511.1,708.3C515.2,707.1 519.2,705.7 523.2,704.3C527.2,702.8 531.1,701.3 535,699.6C538.9,698 542.7,696.3 546.5,694.4C550.3,692.6 554,690.7 557.6,688.7C561.2,686.6 564.8,684.5 568.3,682.3C571.8,680.1 575.3,677.8 578.7,675.5C582,673.1 585.3,670.6 588.6,668.1C591.8,665.5 595,662.9 598.1,660.2C601.1,657.5 604.1,654.7 607.1,651.8C610,649 612.8,646 615.6,643C618.4,640 621,636.9 623.6,633.7C626.2,630.5 628.7,627.3 631.1,624C633.6,620.7 635.9,617.3 638.1,613.9C640.4,610.5 642.5,607 644.6,603.4C646.6,599.8 648.6,596.2 650.4,592.5C652.3,588.9 654.1,585.1 655.7,581.3C657.4,577.5 659,573.7 660.4,569.8C661.9,565.9 663.3,562 664.6,558C665.8,554 667,549.9 668.1,545.8C669.1,541.7 670.1,537.6 670.9,533.4C671.8,529.2 672.5,525 673.2,520.7C673.8,516.4 674.4,512.1 674.8,507.7C675.2,503.3 675.6,498.9 675.8,494.3C676,489.7 676.1,486.3 676.1,480Z" fill="#fff"/>
<path d="M622.2,622.3C624.4,619.4 625.3,618.1 626.8,616C628.3,613.8 629.8,611.6 631.3,609.4C632.7,607.2 634.1,605 635.5,602.7C636.8,600.5 638.1,598.2 639.4,595.9C640.7,593.5 641.9,591.2 643.1,588.8C644.3,586.5 645.5,584.1 646.6,581.7C647.7,579.3 648.8,576.8 649.8,574.4C650.8,571.9 651.8,569.4 652.8,566.9C653.7,564.4 654.6,561.9 655.5,559.3C656.3,556.8 657.2,554.2 657.9,551.6C658.7,549 659.4,546.4 660.1,543.8C660.8,541.1 661.4,538.5 662,535.8C662.6,533.1 663.2,530.4 663.7,527.7C664.2,525 664.7,522.2 665.1,519.5C665.5,516.7 665.9,513.9 666.2,511.1C666.5,508.3 666.8,505.5 667,502.6C667.3,499.7 667.4,496.9 667.6,493.9C667.7,491 667.8,488.5 667.9,484.9C667.9,481.3 667.9,477 667.9,472.3C667.8,467.7 667.7,462.1 667.5,457C667.4,451.9 667.1,446.8 666.8,441.8C666.6,436.7 666.2,431.6 665.8,426.5C665.5,421.5 665,416.4 664.5,411.4C664,406.3 663.4,401.3 662.8,396.3C662.2,391.3 661.6,386.3 660.8,381.3C660.1,376.4 659.3,371.4 658.5,366.5C657.7,361.6 656.8,356.7 655.9,351.8C655,346.9 654,342.1 652.9,337.3C651.9,332.5 650.8,327.7 649.7,322.9C648.6,318.2 647.4,313.5 646.2,308.8C644.9,304.1 643.7,299.5 642.3,294.9C641,290.3 639.6,285.7 638.2,281.2C636.8,276.7 635.3,272.2 633.8,267.8C632.3,263.4 630.8,259 629.2,254.6C627.6,250.3 625.9,246 624.3,241.8C622.6,237.5 620.9,233.4 619.1,229.2C617.4,225.1 615.6,221 613.7,217C611.9,213 610.1,209 608.2,205.1C606.2,201.2 604.3,197.4 602.3,193.6C600.4,189.9 598.4,186.1 596.3,182.5C594.3,178.8 592.2,175.3 590.1,171.7C588.1,168.2 585.9,164.8 583.8,161.4C581.6,158 579.5,154.7 577.3,151.5C575.1,148.2 572.9,145.1 570.6,142C568.4,138.9 566.1,135.9 563.8,132.9C561.5,130 559.2,127.1 556.9,124.3C554.6,121.6 552.3,118.9 549.9,116.2C547.5,113.6 545.2,111 542.8,108.6C540.4,106.1 538,103.7 535.6,101.4C533.2,99.1 530.8,96.9 528.4,94.7C526,92.6 523.6,90.5 521.2,88.6C518.7,86.6 516.3,84.7 513.9,82.9C511.4,81.1 509,79.3 506.6,77.7C504.1,76.1 501.7,74.5 499.3,73C496.8,71.6 494.4,70.2 492,68.8C489.5,67.5 487.1,66.3 484.7,65.2C482.3,64 479.9,62.9 477.5,62C475.1,61 472.7,60.1 470.3,59.2C467.9,58.4 465.5,57.7 463.1,57C460.7,56.3 458.3,55.7 456,55.2C453.6,54.7 451.2,54.2 448.9,53.9C446.5,53.5 444.1,53.2 441.8,53C439.4,52.8 437.1,52.6 434.7,52.6C432.4,52.5 430,52.5 427.7,52.6C425.3,52.6 423,52.8 420.6,53C418.3,53.2 415.9,53.5 413.5,53.9C411.2,54.2 408.8,54.7 406.4,55.2C404.1,55.7 401.7,56.3 399.3,57C396.9,57.7 394.5,58.4 392.1,59.2C389.7,60.1 387.3,61 384.9,62C382.5,62.9 380.1,64 377.7,65.2C375.3,66.3 372.9,67.5 370.4,68.8C368,70.2 365.6,71.6 363.1,73C360.7,74.5 358.3,76.1 355.8,77.7C353.4,79.3 351,81.1 348.5,82.9C346.1,84.7 343.7,86.6 341.2,88.6C338.8,90.5 336.4,92.6 334,94.7C331.6,96.9 329.2,99.1 326.8,101.4C324.4,103.7 322,106.1 319.6,108.6C317.2,111 314.9,113.6 312.5,116.2C310.1,118.9 307.8,121.6 305.5,124.3C303.2,127.1 300.9,130 298.6,132.9C296.3,135.9 294,138.9 291.8,142C289.5,145.1 287.3,148.2 285.1,151.5C282.9,154.7 280.8,158 278.6,161.4C276.5,164.8 274.3,168.2 272.3,171.7C270.2,175.3 268.1,178.8 266.1,182.5C264,186.1 262,189.9 260.1,193.6C258.1,197.4 256.2,201.2 254.2,205.1C252.3,209 250.5,213 248.7,217C246.8,221 245,225.1 243.3,229.2C241.5,233.4 239.8,237.5 238.1,241.8C236.5,246 234.8,250.3 233.2,254.6C231.6,259 230.1,263.4 228.6,267.8C227.1,272.2 225.6,276.7 224.2,281.2C222.8,285.7 221.4,290.3 220.1,294.9C218.7,299.5 217.5,304.1 216.2,308.8C215,313.5 213.8,318.2 212.7,322.9C211.6,327.7 210.5,332.5 209.5,337.3C208.4,342.1 207.4,346.9 206.5,351.8C205.6,356.7 204.7,361.6 203.9,366.5C203.1,371.4 202.3,376.4 201.6,381.3C200.8,386.3 200.2,391.3 199.6,396.3C199,401.3 198.4,406.3 197.9,411.4C197.4,416.4 196.9,421.5 196.6,426.5C196.2,431.6 195.8,436.7 195.6,441.8C195.3,446.8 195,451.9 194.9,457C194.7,462.1 194.6,467.6 194.5,472.3C194.5,477.1 194.5,481.8 194.5,485.7C194.6,489.5 194.7,492.3 194.8,495.5C194.9,498.7 195.1,501.8 195.4,504.8C195.6,507.8 195.9,510.8 196.2,513.7C196.5,516.6 196.9,519.5 197.3,522.4C197.7,525.2 198.1,528 198.6,530.8C199.1,533.6 199.6,536.3 200.2,539.1C200.8,541.8 201.4,544.5 202.1,547.1C202.7,549.8 203.4,552.4 204.2,555C204.9,557.7 205.7,560.2 206.6,562.8C207.4,565.3 208.3,567.9 209.2,570.4C210.1,572.9 211.1,575.3 212.1,577.8C213.1,580.2 214.1,582.7 215.2,585C216.2,587.4 217.4,589.8 218.5,592.1C219.7,594.5 220.9,596.8 222.1,599.1C223.4,601.3 224.6,603.6 225.9,605.8C227.3,608 228.6,610.2 230,612.4C231.4,614.5 232.2,616 234.3,618.8C236.4,621.6 239.6,626.2 242.5,629.2C245.4,632.2 248.5,634.7 251.5,637C254.5,639.3 257.4,641.2 260.5,643C263.6,644.8 266.1,646.1 270,647.8C273.9,649.4 279,651.4 284,652.6C289,653.9 293.2,655.2 300,655.2C306.8,655.3 316.7,654.6 325,652.8C333.3,650.9 341.7,646.9 350,644C358.3,641.1 366.7,637.6 375,635.2C383.3,632.9 390.6,631 400,629.8C409.4,628.6 420.8,628.2 431.2,628.2C441.6,628.2 453,628.6 462.4,629.8C471.8,631 479.1,632.8 487.4,635.2C495.7,637.6 504.1,641.1 512.4,644C520.7,646.9 529.1,650.9 537.4,652.8C545.7,654.7 555.6,655.2 562.4,655.2C569.2,655.2 573,654 578,652.8C583,651.6 588.1,649.7 592.4,647.8C596.7,645.9 600.5,643.9 604,641.5C607.5,639.1 610.5,636.7 613.5,633.5C616.5,630.3 619.9,625.3 622.2,622.3Z" fill="#e7f8fd"/>
<g clip-path="url(#cm)"><path d="M632.5,480C632.5,474.1 632.4,465.2 632.2,457.8C632,450.4 631.7,443 631.3,435.7C630.9,428.3 630.4,421 629.7,413.7C629.1,406.4 628.4,399.1 627.6,391.8C626.8,384.6 625.9,377.4 624.9,370.3C623.9,363.1 622.8,356 621.6,349C620.4,341.9 619.1,335 617.7,328.1C616.4,321.1 614.9,314.3 613.3,307.5C611.8,300.8 610.1,294.1 608.4,287.5C606.7,280.9 604.9,274.4 603,268C601.1,261.6 599.1,255.3 597.1,249.1C595.1,242.9 592.9,236.8 590.7,230.8C588.6,224.8 586.3,218.9 584,213.2C581.6,207.4 579.2,201.8 576.8,196.3C574.3,190.8 571.8,185.4 569.2,180.2C566.6,175 564,169.9 561.3,164.9C558.6,160 555.9,155.1 553.1,150.5C550.3,145.8 547.5,141.3 544.6,137C541.7,132.6 538.8,128.4 535.8,124.4C532.9,120.4 529.8,116.5 526.8,112.8C523.8,109.1 520.7,105.6 517.6,102.2C514.5,98.9 511.3,95.7 508.2,92.7C505,89.6 501.8,86.8 498.6,84.2C495.4,81.5 492.1,79 488.9,76.8C485.6,74.5 482.3,72.4 479,70.4C475.7,68.5 472.4,66.8 469.1,65.3C465.8,63.7 462.4,62.4 459.1,61.2C455.7,60.1 452.4,59.1 449,58.3C445.6,57.5 442.3,57 438.9,56.6C435.5,56.2 432.1,56 428.8,56C425.4,56 422,56.2 418.6,56.6C415.2,57 411.9,57.5 408.5,58.3C405.1,59.1 401.8,60.1 398.4,61.2C395.1,62.4 391.7,63.7 388.4,65.3C385.1,66.8 381.8,68.5 378.5,70.4C375.2,72.4 371.9,74.5 368.6,76.8C365.4,79 362.1,81.5 358.9,84.2C355.7,86.8 352.5,89.6 349.3,92.7C346.2,95.7 343,98.9 339.9,102.2C336.8,105.6 333.7,109.1 330.7,112.8C327.7,116.5 324.6,120.4 321.7,124.4C318.7,128.4 315.8,132.6 312.9,137C310,141.3 307.2,145.8 304.4,150.5C301.6,155.1 298.9,160 296.2,164.9C293.5,169.9 290.9,175 288.3,180.2C285.7,185.4 283.2,190.8 280.7,196.3C278.3,201.8 275.9,207.4 273.5,213.2C271.2,218.9 268.9,224.8 266.8,230.8C264.6,236.8 262.4,242.9 260.4,249.1C258.4,255.3 256.4,261.6 254.5,268C252.6,274.4 250.8,280.9 249.1,287.5C247.4,294.1 245.7,300.8 244.2,307.5C242.6,314.3 241.1,321.1 239.8,328.1C238.4,335 237.1,341.9 235.9,349C234.7,356 233.6,363.1 232.6,370.3C231.6,377.4 230.7,384.6 229.9,391.8C229.1,399.1 228.4,406.4 227.8,413.7C227.1,421 226.6,428.3 226.2,435.7C225.8,443 225.5,450.4 225.3,457.8C225.1,465.2 225,474.5 225,480C225,485.5 225.1,487.4 225.3,491C225.5,494.7 225.7,498.4 226.1,502.1C226.5,505.7 227,509.4 227.5,513C228.1,516.6 228.7,520.3 229.5,523.9C230.2,527.5 231,531.1 231.9,534.6C232.9,538.2 233.9,541.7 235,545.2C236.1,548.7 237.3,552.2 238.5,555.6C239.8,559.1 241.2,562.5 242.6,565.8C244.1,569.2 245.6,572.5 247.2,575.8C248.8,579.1 250.5,582.3 252.3,585.5C254.1,588.7 255.9,591.8 257.9,594.9C259.8,598 261.8,601 263.9,604C266,607 268.2,609.9 270.4,612.8C272.6,615.6 275,618.5 277.3,621.2C279.7,623.9 282.2,626.6 284.7,629.2C287.2,631.8 289.8,634.3 292.4,636.8C295.1,639.3 297.8,641.7 300.5,644C303.3,646.3 306.1,648.5 309,650.7C311.9,652.9 314.8,655 317.8,657C320.8,659 323.8,660.9 326.9,662.7C330,664.6 333.1,666.3 336.2,668C339.4,669.7 342.6,671.3 345.9,672.8C349.1,674.3 352.4,675.7 355.7,677C359.1,678.3 362.4,679.5 365.8,680.7C369.2,681.8 372.6,682.9 376,683.8C379.4,684.8 382.9,685.6 386.4,686.4C389.9,687.2 393.4,687.8 396.9,688.4C400.4,689 403.9,689.5 407.5,689.8C411,690.2 414.5,690.5 418.1,690.7C421.6,690.9 424.9,691 428.7,691C432.6,691 437.3,690.9 441.4,690.7C445.4,690.5 449.2,690.3 453,689.9C456.8,689.5 460.5,689.1 464.2,688.5C467.8,688 471.5,687.4 475.1,686.6C478.6,685.9 482.2,685.1 485.7,684.2C489.2,683.3 492.6,682.3 496,681.2C499.4,680.2 502.8,679 506.1,677.8C509.5,676.5 512.7,675.2 516,673.7C519.2,672.3 522.4,670.8 525.5,669.2C528.6,667.6 531.7,666 534.7,664.2C537.7,662.5 540.7,660.6 543.6,658.7C546.5,656.8 549.4,654.8 552.2,652.8C555,650.7 557.7,648.6 560.4,646.3C563.1,644.1 565.7,641.8 568.2,639.5C570.8,637.1 573.3,634.7 575.7,632.2C578.1,629.7 580.4,627.1 582.7,624.4C585,621.8 587.2,619.1 589.4,616.3C591.5,613.5 593.6,610.7 595.6,607.8C597.6,604.9 599.5,602 601.3,598.9C603.2,595.9 605,592.8 606.6,589.7C608.3,586.6 609.9,583.4 611.5,580.2C613,576.9 614.5,573.6 615.8,570.3C617.2,567 618.5,563.6 619.7,560.1C620.9,556.7 622,553.2 623.1,549.7C624.1,546.2 625.1,542.6 625.9,539C626.8,535.3 627.6,531.7 628.3,527.9C629,524.2 629.6,520.5 630.1,516.7C630.7,512.8 631.1,509 631.4,505.1C631.8,501.1 632.1,497.2 632.2,493C632.4,488.9 632.5,485.9 632.5,480Z" fill="#bde6fa"/>
<path d="M419,53C419.5,54 420.9,57 422,59C423.1,61 424.5,62 425.8,65C427.1,68 429.4,73.1 430,76.7C430.6,80.3 430.2,83.7 429.2,86.7C428.2,89.8 425.6,91.7 424.2,95C422.8,98.3 421.1,102.8 420.8,106.7C420.5,110.6 420.7,113.8 422.5,118.3C424.3,122.8 430.1,131 431.6,133.5C430.2,136 425.8,143.3 423.3,148.3C420.8,153.3 417.7,158.6 416.6,163.3C415.5,168 415.9,171.9 416.6,176.6C417.3,181.3 419.3,187.3 420.8,191.5C422.3,195.7 425,199.8 425.8,201.5C424.7,203.4 420.7,208.9 419.1,213C417.5,217.1 416.3,221.8 416,226C415.7,230.2 416.6,234 417.4,238C418.2,242 420.1,245.8 420.7,250C421.2,254.2 421.2,259.2 420.7,263C420.1,266.8 419.2,270.4 417.4,273C415.6,275.6 413.5,277.3 410,278.8C406.5,280.3 401.6,280.4 396.6,281.8C391.6,283.2 382.8,286.6 380,287.5C383.3,289.6 396.7,297.9 400,300C410,300 450,300 460,300C463.3,297.7 476.7,288.6 480,286.3C477.2,285.2 468,281.8 463,279.6C458,277.4 453.4,276 449.8,273C446.2,270 443.6,265.3 441.5,261.4C439.4,257.5 438.1,253.5 437.3,249.7C436.5,245.9 436.6,240.4 436.5,238.5C437.6,237.4 441.3,235.1 443,232C444.7,228.9 446.1,224.8 446.5,220C446.9,215.2 446.7,208.8 445.7,203.2C444.7,197.6 442.2,191.2 440.7,186.6C439.2,182 437.3,177.5 436.6,175.7C437.7,174.5 441,172 443.2,168.3C445.4,164.6 448.4,158 449.9,153.3C451.3,148.6 451.8,143.9 451.9,140C452,136.1 451.8,133.3 450.7,130C449.6,126.7 446.5,122.8 445,120C443.5,117.2 442.2,114.4 441.7,113.3C442.8,112.3 446.6,109.7 448.3,107.5C450,105.3 451.1,102.6 451.7,100C452.3,97.4 452.4,95 451.7,91.7C451,88.4 448.6,84.2 447.5,80C446.4,75.8 445.3,70.2 445,66.7C444.7,63.2 445.5,61.5 445.8,59.2C446.1,56.9 446.8,54 447,53C442.3,53 423.7,53 419,53Z" fill="#fff"/><path d="M407.7,573C407.7,573.5 407.7,575.4 407.7,575.9C407.9,577.2 407.2,581.7 408.9,583.7C410.6,585.7 416.3,587.2 417.8,587.9C415.8,588 409.3,588.1 405.9,588.5C402.5,588.9 400.1,588.9 397.5,590.3C394.9,591.7 391.1,594.8 390.3,596.9C389.5,599 390.1,600.4 392.7,602.8C395.3,605.2 402.1,608.6 405.9,611.2C409.7,613.8 413.3,616 415.5,618.4C417.7,620.8 418.4,624.4 419,625.6C419,626.7 419,630.9 419,632C422.2,632 435,632 438.2,632C438.2,630.9 438.2,626.7 438.2,625.6C437.9,624.7 436.7,621.1 436.4,620.2C439.3,620.2 448.8,621.1 453.7,620.2C458.6,619.3 462.7,617.1 465.7,614.8C468.7,612.5 470.7,608.9 471.7,606.4C472.7,603.9 473.1,601.5 471.7,599.9C470.3,598.3 466.7,597.1 463.3,596.9C459.9,596.7 454.7,597.8 451.3,598.7C447.9,599.6 444.4,601.6 443,602.2C443.6,600.9 446.3,597 446.6,594.5C446.9,592 446.4,589.4 444.8,587.3C443.2,585.2 440.1,583.6 437,581.9C433.9,580.2 428,577.9 426.2,577.1C426.2,576.4 426.2,573.7 426.2,573C423.1,573 410.8,573 407.7,573Z" fill="#fff"/><circle cx="424.5" cy="427.0" r="149.7" fill="#fff"/></g>
<path d="M622.2,622.3C624.4,619.4 625.3,618.1 626.8,616C628.3,613.8 629.8,611.6 631.3,609.4C632.7,607.2 634.1,605 635.5,602.7C636.8,600.5 638.1,598.2 639.4,595.9C640.7,593.5 641.9,591.2 643.1,588.8C644.3,586.5 645.5,584.1 646.6,581.7C647.7,579.3 648.8,576.8 649.8,574.4C650.8,571.9 651.8,569.4 652.8,566.9C653.7,564.4 654.6,561.9 655.5,559.3C656.3,556.8 657.2,554.2 657.9,551.6C658.7,549 659.4,546.4 660.1,543.8C660.8,541.1 661.4,538.5 662,535.8C662.6,533.1 663.2,530.4 663.7,527.7C664.2,525 664.7,522.2 665.1,519.5C665.5,516.7 665.9,513.9 666.2,511.1C666.5,508.3 666.8,505.5 667,502.6C667.3,499.7 667.4,496.9 667.6,493.9C667.7,491 667.8,488.5 667.9,484.9C667.9,481.3 667.9,477 667.9,472.3C667.8,467.7 667.7,462.1 667.5,457C667.4,451.9 667.1,446.8 666.8,441.8C666.6,436.7 666.2,431.6 665.8,426.5C665.5,421.5 665,416.4 664.5,411.4C664,406.3 663.4,401.3 662.8,396.3C662.2,391.3 661.6,386.3 660.8,381.3C660.1,376.4 659.3,371.4 658.5,366.5C657.7,361.6 656.8,356.7 655.9,351.8C655,346.9 654,342.1 652.9,337.3C651.9,332.5 650.8,327.7 649.7,322.9C648.6,318.2 647.4,313.5 646.2,308.8C644.9,304.1 643.7,299.5 642.3,294.9C641,290.3 639.6,285.7 638.2,281.2C636.8,276.7 635.3,272.2 633.8,267.8C632.3,263.4 630.8,259 629.2,254.6C627.6,250.3 625.9,246 624.3,241.8C622.6,237.5 620.9,233.4 619.1,229.2C617.4,225.1 615.6,221 613.7,217C611.9,213 610.1,209 608.2,205.1C606.2,201.2 604.3,197.4 602.3,193.6C600.4,189.9 598.4,186.1 596.3,182.5C594.3,178.8 592.2,175.3 590.1,171.7C588.1,168.2 585.9,164.8 583.8,161.4C581.6,158 579.5,154.7 577.3,151.5C575.1,148.2 572.9,145.1 570.6,142C568.4,138.9 566.1,135.9 563.8,132.9C561.5,130 559.2,127.1 556.9,124.3C554.6,121.6 552.3,118.9 549.9,116.2C547.5,113.6 545.2,111 542.8,108.6C540.4,106.1 538,103.7 535.6,101.4C533.2,99.1 530.8,96.9 528.4,94.7C526,92.6 523.6,90.5 521.2,88.6C518.7,86.6 516.3,84.7 513.9,82.9C511.4,81.1 509,79.3 506.6,77.7C504.1,76.1 501.7,74.5 499.3,73C496.8,71.6 494.4,70.2 492,68.8C489.5,67.5 487.1,66.3 484.7,65.2C482.3,64 479.9,62.9 477.5,62C475.1,61 472.7,60.1 470.3,59.2C467.9,58.4 465.5,57.7 463.1,57C460.7,56.3 458.3,55.7 456,55.2C453.6,54.7 451.2,54.2 448.9,53.9C446.5,53.5 444.1,53.2 441.8,53C439.4,52.8 437.1,52.6 434.7,52.6C432.4,52.5 430,52.5 427.7,52.6C425.3,52.6 423,52.8 420.6,53C418.3,53.2 415.9,53.5 413.5,53.9C411.2,54.2 408.8,54.7 406.4,55.2C404.1,55.7 401.7,56.3 399.3,57C396.9,57.7 394.5,58.4 392.1,59.2C389.7,60.1 387.3,61 384.9,62C382.5,62.9 380.1,64 377.7,65.2C375.3,66.3 372.9,67.5 370.4,68.8C368,70.2 365.6,71.6 363.1,73C360.7,74.5 358.3,76.1 355.8,77.7C353.4,79.3 351,81.1 348.5,82.9C346.1,84.7 343.7,86.6 341.2,88.6C338.8,90.5 336.4,92.6 334,94.7C331.6,96.9 329.2,99.1 326.8,101.4C324.4,103.7 322,106.1 319.6,108.6C317.2,111 314.9,113.6 312.5,116.2C310.1,118.9 307.8,121.6 305.5,124.3C303.2,127.1 300.9,130 298.6,132.9C296.3,135.9 294,138.9 291.8,142C289.5,145.1 287.3,148.2 285.1,151.5C282.9,154.7 280.8,158 278.6,161.4C276.5,164.8 274.3,168.2 272.3,171.7C270.2,175.3 268.1,178.8 266.1,182.5C264,186.1 262,189.9 260.1,193.6C258.1,197.4 256.2,201.2 254.2,205.1C252.3,209 250.5,213 248.7,217C246.8,221 245,225.1 243.3,229.2C241.5,233.4 239.8,237.5 238.1,241.8C236.5,246 234.8,250.3 233.2,254.6C231.6,259 230.1,263.4 228.6,267.8C227.1,272.2 225.6,276.7 224.2,281.2C222.8,285.7 221.4,290.3 220.1,294.9C218.7,299.5 217.5,304.1 216.2,308.8C215,313.5 213.8,318.2 212.7,322.9C211.6,327.7 210.5,332.5 209.5,337.3C208.4,342.1 207.4,346.9 206.5,351.8C205.6,356.7 204.7,361.6 203.9,366.5C203.1,371.4 202.3,376.4 201.6,381.3C200.8,386.3 200.2,391.3 199.6,396.3C199,401.3 198.4,406.3 197.9,411.4C197.4,416.4 196.9,421.5 196.6,426.5C196.2,431.6 195.8,436.7 195.6,441.8C195.3,446.8 195,451.9 194.9,457C194.7,462.1 194.6,467.6 194.5,472.3C194.5,477.1 194.5,481.8 194.5,485.7C194.6,489.5 194.7,492.3 194.8,495.5C194.9,498.7 195.1,501.8 195.4,504.8C195.6,507.8 195.9,510.8 196.2,513.7C196.5,516.6 196.9,519.5 197.3,522.4C197.7,525.2 198.1,528 198.6,530.8C199.1,533.6 199.6,536.3 200.2,539.1C200.8,541.8 201.4,544.5 202.1,547.1C202.7,549.8 203.4,552.4 204.2,555C204.9,557.7 205.7,560.2 206.6,562.8C207.4,565.3 208.3,567.9 209.2,570.4C210.1,572.9 211.1,575.3 212.1,577.8C213.1,580.2 214.1,582.7 215.2,585C216.2,587.4 217.4,589.8 218.5,592.1C219.7,594.5 220.9,596.8 222.1,599.1C223.4,601.3 224.6,603.6 225.9,605.8C227.3,608 228.6,610.2 230,612.4C231.4,614.5 232.2,616 234.3,618.8C236.4,621.6 239.6,626.2 242.5,629.2C245.4,632.2 248.5,634.7 251.5,637C254.5,639.3 257.4,641.2 260.5,643C263.6,644.8 266.1,646.1 270,647.8C273.9,649.4 279,651.4 284,652.6C289,653.9 293.2,655.2 300,655.2C306.8,655.3 316.7,654.6 325,652.8C333.3,650.9 341.7,646.9 350,644C358.3,641.1 366.7,637.6 375,635.2C383.3,632.9 390.6,631 400,629.8C409.4,628.6 420.8,628.2 431.2,628.2C441.6,628.2 453,628.6 462.4,629.8C471.8,631 479.1,632.8 487.4,635.2C495.7,637.6 504.1,641.1 512.4,644C520.7,646.9 529.1,650.9 537.4,652.8C545.7,654.7 555.6,655.2 562.4,655.2C569.2,655.2 573,654 578,652.8C583,651.6 588.1,649.7 592.4,647.8C596.7,645.9 600.5,643.9 604,641.5C607.5,639.1 610.5,636.7 613.5,633.5C616.5,630.3 619.9,625.3 622.2,622.3Z" fill="none" stroke="#5b97d3" stroke-width="4.7"/>
<circle cx="424.5" cy="427.0" r="141" fill="#cd8640"/>
<g clip-path="url(#cy)"><circle cx="424.5" cy="427.0" r="140" fill="#f8a411"/>
<circle cx="425.5" cy="427" r="127.5" fill="#f9cf95"/>
<path d="M318,358C317.2,359.3 314.8,363.4 313.5,366C312.2,368.6 310.9,371.2 310,373.5C309.1,375.8 308.2,377.7 307.8,379.5C307.4,381.3 307.2,382.6 307.4,384.5C307.6,386.4 307.6,388.3 309,391C310.4,393.7 313.8,397.2 316,400.5C318.2,403.8 320.3,407.2 322,410.5C323.7,413.8 325,417 326,420C327,423 327.7,425.5 327.8,428.5C327.9,431.5 327.5,434.5 326.6,438C325.8,441.5 324.4,444.8 322.7,449.3C321,453.9 318.1,460.9 316.5,465.3C314.9,469.8 313.9,473.1 313.3,476C312.8,478.9 312.9,480.7 313.2,483C313.5,485.3 314.1,487.7 315,490C315.9,492.3 317.2,494.7 318.5,497C319.8,499.3 322.2,502.8 323,504L270,504L270,358Z" fill="#f8a411"/><path d="M293,387C293.4,387.5 293.4,387.6 295.5,390.2C297.6,392.8 302.4,398.4 305.5,402.7C308.6,407 312,412.6 314,416C316,419.4 316.8,420.7 317.6,423C318.4,425.3 318.8,427.6 318.9,430C319,432.4 318.5,434.6 318,437.3C317.5,440 316.8,443.1 316,446C315.2,448.9 314.9,450.8 313.3,454.7C311.8,458.6 308.6,465.5 306.7,469.3C304.8,473.1 303.2,475.4 302,477.5C300.8,479.6 299.9,481.2 299.5,482L270,482L270,388Z" fill="#f9cf95"/>
<path d="M535.9,427C535.9,421 535.4,415 534.4,409.1C533.4,403.2 531.9,397.3 530,391.7C528,386.1 525.6,380.5 522.7,375.3C519.9,370 516.6,364.9 512.9,360.2C509.3,355.5 505.2,351 500.9,346.9C496.6,342.9 491.8,339.1 487,335.7C482.1,332.4 476.9,329.4 471.6,326.9C466.4,324.4 460.9,322.2 455.4,320.5C449.9,318.9 444.2,317.6 438.6,316.8C433,315.9 427.4,315.5 421.9,315.5C416.4,315.5 410.9,315.9 405.7,316.7C400.4,317.5 395.3,318.7 390.4,320.2C385.5,321.6 380.8,323.5 376.4,325.6C372,327.7 367.8,330.1 364,332.7C360.2,335.3 356.7,338.2 353.5,341.2C350.3,344.2 347.5,347.4 345,350.6C342.5,353.8 340.3,357.2 338.5,360.5C336.7,363.8 335.2,367.3 334,370.6C332.9,373.9 332,377.3 331.5,380.5C330.9,383.7 330.7,386.9 330.7,389.8C330.7,392.8 330.9,395.9 331.4,398.4C331.9,400.9 332.4,402.8 333.6,405C334.8,407.2 336.6,409.7 338.6,411.6C340.6,413.5 342.9,414.8 345.8,416.3C348.7,417.8 352.1,419.8 356,420.6C359.9,421.4 364.9,421.9 369.3,421.3C373.8,420.8 378.2,419.3 382.7,417.3C387.1,415.3 391.6,411.5 396,409.3C400.4,407.1 405,405.2 409.3,404.2C413.6,403.2 418.5,403.2 421.9,403.1C425.3,403 427.3,403.1 429.8,403.7C432.3,404.3 434.9,405.5 437.1,406.9C439.3,408.3 441.3,410.2 442.9,412.2C444.5,414.3 445.8,416.7 446.7,419.2C447.5,421.6 448,424.4 448,427C448,429.6 447.5,432.4 446.7,434.8C445.8,437.3 444.5,439.7 442.9,441.8C441.3,443.8 439.3,445.7 437.1,447.1C434.9,448.5 432.3,449.7 429.8,450.3C427.3,450.9 425.3,451 421.9,450.9C418.5,450.8 413.6,450.8 409.3,449.8C405,448.8 400.4,446.9 396,444.7C391.6,442.5 387.1,438.7 382.7,436.7C378.2,434.7 373.8,433.2 369.3,432.7C364.9,432.1 359.9,432.6 356,433.4C352.1,434.2 348.7,436.2 345.8,437.7C342.9,439.2 340.6,440.5 338.6,442.4C336.6,444.3 334.8,446.8 333.6,449C332.4,451.2 331.9,453.1 331.4,455.6C330.9,458.1 330.7,461.2 330.7,464.2C330.7,467.1 330.9,470.3 331.5,473.5C332,476.7 332.9,480.1 334,483.4C335.2,486.7 336.7,490.2 338.5,493.5C340.3,496.8 342.5,500.2 345,503.4C347.5,506.6 350.3,509.8 353.5,512.8C356.7,515.8 360.2,518.7 364,521.3C367.8,523.9 372,526.3 376.4,528.4C380.8,530.5 385.5,532.4 390.4,533.8C395.3,535.3 400.4,536.5 405.7,537.3C410.9,538.1 416.4,538.5 421.9,538.5C427.4,538.5 433,538.1 438.6,537.2C444.2,536.4 449.9,535.1 455.4,533.5C460.9,531.8 466.4,529.6 471.6,527.1C476.9,524.6 482.1,521.6 487,518.3C491.8,514.9 496.6,511.1 500.9,507.1C505.2,503 509.3,498.5 512.9,493.8C516.6,489.1 519.9,484 522.7,478.7C525.6,473.5 528,467.9 530,462.3C531.9,456.7 533.4,450.8 534.4,444.9C535.4,439 535.9,433 535.9,427Z" fill="#f8a411"/>
<path d="M368,440.1C368,440.4 367.8,441.2 367.8,441.8C367.8,442.4 367.8,443 367.8,443.6C367.9,444.2 367.9,444.9 368.1,445.5C368.2,446.2 368.4,446.8 368.6,447.5C368.8,448.2 369,448.8 369.3,449.5C369.6,450.2 370,450.9 370.3,451.6C370.7,452.3 371.2,452.9 371.7,453.6C372.1,454.3 372.7,455 373.2,455.6C373.8,456.3 374.4,456.9 375.1,457.6C375.7,458.2 376.5,458.9 377.2,459.5C378,460.1 378.8,460.7 379.6,461.3C380.4,461.9 381.3,462.4 382.2,463C383.2,463.5 384.1,464 385.1,464.5C386.1,465 387.1,465.5 388.2,465.9C389.3,466.3 390.4,466.7 391.5,467.1C392.7,467.5 393.8,467.8 395,468.1C396.2,468.4 397.4,468.7 398.7,469C399.9,469.2 401.2,469.4 402.5,469.6C403.8,469.8 405.1,469.9 406.4,470C407.7,470.1 409.1,470.1 410.4,470.1C411.8,470.2 413.2,470.1 414.5,470.1C415.9,470 417.3,469.9 418.6,469.7C420,469.6 421.4,469.4 422.8,469.2C424.1,469 425.5,468.7 426.9,468.4C428.2,468.1 429.6,467.7 430.9,467.3C432.3,466.9 433.6,466.5 434.9,466C436.2,465.5 437.5,465 438.8,464.4C440.1,463.9 441.3,463.3 442.5,462.6C443.7,462 444.9,461.3 446.1,460.6C447.2,459.9 448.4,459.2 449.4,458.4C450.5,457.6 451.6,456.8 452.6,455.9C453.6,455.1 454.6,454.2 455.5,453.3C456.4,452.3 457.3,451.4 458.1,450.4C458.9,449.4 459.7,448.4 460.4,447.4C461.2,446.4 461.8,445.3 462.4,444.3C463.1,443.2 463.6,442.1 464.1,441C464.6,439.8 465.1,438.7 465.4,437.6C465.8,436.4 466.1,435.3 466.4,434.1C466.6,432.9 466.8,431.7 467,430.6C467.1,429.4 467.1,428.2 467.1,427C467.1,425.8 467.1,424.6 467,423.4C466.8,422.3 466.6,421.1 466.4,419.9C466.1,418.7 465.8,417.6 465.4,416.4C465.1,415.3 464.6,414.2 464.1,413C463.6,411.9 463.1,410.8 462.4,409.7C461.8,408.7 461.2,407.6 460.4,406.6C459.7,405.6 458.9,404.6 458.1,403.6C457.3,402.6 456.4,401.7 455.5,400.7C454.6,399.8 453.6,398.9 452.6,398.1C451.6,397.2 450.5,396.4 449.4,395.6C448.4,394.8 447.2,394.1 446.1,393.4C444.9,392.7 443.7,392 442.5,391.4C441.3,390.7 440.1,390.1 438.8,389.6C437.5,389 436.2,388.5 434.9,388C433.6,387.5 432.3,387.1 430.9,386.7C429.6,386.3 428.2,385.9 426.9,385.6C425.5,385.3 424.1,385 422.8,384.8C421.4,384.6 420,384.4 418.6,384.3C417.3,384.1 415.9,384 414.5,383.9C413.2,383.9 411.8,383.8 410.4,383.9C409.1,383.9 407.7,383.9 406.4,384C405.1,384.1 403.8,384.2 402.5,384.4C401.2,384.6 399.9,384.8 398.7,385C397.4,385.3 396.2,385.6 395,385.9C393.8,386.2 392.7,386.5 391.5,386.9C390.4,387.3 389.3,387.7 388.2,388.1C387.1,388.5 386.1,389 385.1,389.5C384.1,390 383.2,390.5 382.2,391C381.3,391.6 380.4,392.1 379.6,392.7C378.8,393.3 378,393.9 377.2,394.5C376.5,395.1 375.7,395.8 375.1,396.4C374.4,397.1 373.8,397.7 373.2,398.4C372.7,399 372.1,399.7 371.7,400.4C371.2,401.1 370.7,401.7 370.3,402.4C370,403.1 369.6,403.8 369.3,404.5C369,405.2 368.8,405.8 368.6,406.5C368.4,407.2 368.2,407.8 368.1,408.5C367.9,409.1 367.9,409.8 367.8,410.4C367.8,411 367.8,411.6 367.8,412.2C367.8,412.8 368,413.6 368,413.9C368,413.9 368,413.9 368,413.9C368.1,413.6 368.2,412.8 368.3,412.2C368.4,411.7 368.5,411.1 368.7,410.5C368.9,410 369.1,409.4 369.3,408.8C369.5,408.3 369.8,407.7 370.1,407.1C370.4,406.6 370.7,406 371.1,405.4C371.5,404.8 371.9,404.3 372.3,403.7C372.7,403.1 373.2,402.6 373.7,402C374.2,401.5 374.7,400.9 375.3,400.4C375.9,399.8 376.5,399.3 377.2,398.7C377.8,398.2 378.5,397.7 379.2,397.2C380,396.7 380.7,396.2 381.5,395.7C382.3,395.2 383.2,394.7 384,394.3C384.9,393.8 385.8,393.4 386.7,393C387.7,392.6 388.6,392.2 389.7,391.8C390.7,391.4 391.7,391.1 392.8,390.8C393.8,390.5 394.9,390.2 396,389.9C397.1,389.6 398.3,389.4 399.5,389.2C400.6,389 401.8,388.8 403,388.6C404.2,388.5 405.5,388.4 406.7,388.3C408,388.2 409.2,388.2 410.5,388.2C411.7,388.1 413,388.2 414.3,388.2C415.6,388.3 416.9,388.4 418.2,388.5C419.5,388.7 420.8,388.8 422.1,389.1C423.4,389.3 424.6,389.5 425.9,389.8C427.2,390.1 428.5,390.4 429.7,390.8C431,391.2 432.2,391.6 433.4,392C434.7,392.5 435.9,393 437.1,393.5C438.2,394 439.4,394.6 440.5,395.2C441.7,395.8 442.8,396.4 443.8,397C444.9,397.7 445.9,398.4 446.9,399.1C447.9,399.8 448.9,400.6 449.8,401.4C450.7,402.1 451.6,403 452.4,403.8C453.3,404.6 454.1,405.5 454.8,406.4C455.6,407.2 456.3,408.1 456.9,409.1C457.6,410 458.2,410.9 458.7,411.9C459.2,412.8 459.7,413.8 460.2,414.8C460.6,415.8 461,416.8 461.3,417.8C461.7,418.8 462,419.8 462.2,420.8C462.4,421.8 462.6,422.9 462.7,423.9C462.8,424.9 462.9,426 462.9,427C462.9,428 462.8,429.1 462.7,430.1C462.6,431.1 462.4,432.2 462.2,433.2C462,434.2 461.7,435.2 461.3,436.2C461,437.2 460.6,438.2 460.2,439.2C459.7,440.2 459.2,441.2 458.7,442.1C458.2,443.1 457.6,444 456.9,444.9C456.3,445.9 455.6,446.8 454.8,447.6C454.1,448.5 453.3,449.4 452.4,450.2C451.6,451 450.7,451.9 449.8,452.6C448.9,453.4 447.9,454.2 446.9,454.9C445.9,455.6 444.9,456.3 443.8,457C442.8,457.6 441.7,458.2 440.5,458.8C439.4,459.4 438.2,460 437.1,460.5C435.9,461 434.7,461.5 433.4,462C432.2,462.4 431,462.8 429.7,463.2C428.5,463.6 427.2,463.9 425.9,464.2C424.6,464.5 423.4,464.7 422.1,464.9C420.8,465.2 419.5,465.3 418.2,465.5C416.9,465.6 415.6,465.7 414.3,465.8C413,465.8 411.7,465.9 410.5,465.8C409.2,465.8 408,465.8 406.7,465.7C405.5,465.6 404.2,465.5 403,465.4C401.8,465.2 400.6,465 399.5,464.8C398.3,464.6 397.1,464.4 396,464.1C394.9,463.8 393.8,463.5 392.8,463.2C391.7,462.9 390.7,462.6 389.7,462.2C388.6,461.8 387.7,461.4 386.7,461C385.8,460.6 384.9,460.2 384,459.7C383.2,459.3 382.3,458.8 381.5,458.3C380.7,457.8 380,457.3 379.2,456.8C378.5,456.3 377.8,455.8 377.2,455.3C376.5,454.7 375.9,454.2 375.3,453.6C374.7,453.1 374.2,452.5 373.7,452C373.2,451.4 372.7,450.9 372.3,450.3C371.9,449.7 371.5,449.2 371.1,448.6C370.7,448 370.4,447.4 370.1,446.9C369.8,446.3 369.5,445.7 369.3,445.2C369.1,444.6 368.9,444 368.7,443.5C368.5,442.9 368.4,442.3 368.3,441.8C368.2,441.2 368.1,440.4 368,440.1C368,440.1 368,440.1 368,440.1Z" fill="#f9cf95"/>
<path d="M360.7,444.7C360.7,445.1 360.5,446.2 360.5,447C360.5,447.8 360.5,448.6 360.5,449.4C360.6,450.2 360.7,451.1 360.8,451.9C361,452.8 361.2,453.7 361.5,454.6C361.7,455.5 362,456.4 362.4,457.3C362.8,458.2 363.2,459.1 363.7,460C364.2,460.9 364.7,461.8 365.3,462.7C365.9,463.6 366.6,464.5 367.3,465.4C368,466.3 368.8,467.1 369.6,468C370.5,468.9 371.3,469.7 372.3,470.5C373.2,471.3 374.2,472.1 375.3,472.9C376.3,473.7 377.4,474.4 378.6,475.2C379.7,475.9 380.9,476.6 382.2,477.2C383.4,477.9 384.7,478.5 386.1,479.1C387.4,479.7 388.8,480.2 390.2,480.7C391.6,481.2 393.1,481.7 394.6,482.1C396.1,482.5 397.6,482.9 399.2,483.2C400.7,483.5 402.3,483.8 403.9,484C405.6,484.3 407.2,484.5 408.9,484.6C410.5,484.7 412.2,484.8 413.9,484.8C415.6,484.8 417.3,484.8 419,484.7C420.7,484.6 422.5,484.5 424.2,484.3C425.9,484.1 427.6,483.8 429.4,483.5C431.1,483.2 432.8,482.8 434.5,482.4C436.2,482 437.9,481.5 439.6,481C441.3,480.4 442.9,479.8 444.6,479.2C446.2,478.6 447.8,477.9 449.4,477.1C451,476.4 452.6,475.5 454.1,474.7C455.6,473.8 457.1,472.9 458.6,472C460,471 461.4,470 462.8,468.9C464.1,467.9 465.4,466.8 466.7,465.6C467.9,464.5 469.2,463.3 470.3,462.1C471.4,460.8 472.5,459.6 473.6,458.3C474.6,457 475.6,455.6 476.5,454.2C477.4,452.9 478.2,451.4 479,450C479.7,448.6 480.4,447.1 481,445.6C481.7,444.1 482.2,442.6 482.7,441.1C483.1,439.6 483.5,438 483.8,436.4C484.2,434.9 484.4,433.3 484.6,431.7C484.7,430.2 484.8,428.6 484.8,427C484.8,425.4 484.7,423.8 484.6,422.3C484.4,420.7 484.2,419.1 483.8,417.6C483.5,416 483.1,414.4 482.7,412.9C482.2,411.4 481.7,409.9 481,408.4C480.4,406.9 479.7,405.4 479,404C478.2,402.6 477.4,401.1 476.5,399.8C475.6,398.4 474.6,397 473.6,395.7C472.5,394.4 471.4,393.2 470.3,391.9C469.2,390.7 467.9,389.5 466.7,388.4C465.4,387.2 464.1,386.1 462.8,385.1C461.4,384 460,383 458.6,382C457.1,381.1 455.6,380.2 454.1,379.3C452.6,378.5 451,377.6 449.4,376.9C447.8,376.1 446.2,375.4 444.6,374.8C442.9,374.2 441.3,373.6 439.6,373C437.9,372.5 436.2,372 434.5,371.6C432.8,371.2 431.1,370.8 429.4,370.5C427.6,370.2 425.9,369.9 424.2,369.7C422.5,369.5 420.7,369.4 419,369.3C417.3,369.2 415.6,369.2 413.9,369.2C412.2,369.2 410.5,369.3 408.9,369.4C407.2,369.5 405.6,369.7 403.9,370C402.3,370.2 400.7,370.5 399.2,370.8C397.6,371.1 396.1,371.5 394.6,371.9C393.1,372.3 391.6,372.8 390.2,373.3C388.8,373.8 387.4,374.3 386.1,374.9C384.7,375.5 383.4,376.1 382.2,376.8C380.9,377.4 379.7,378.1 378.6,378.8C377.4,379.6 376.3,380.3 375.3,381.1C374.2,381.9 373.2,382.7 372.3,383.5C371.3,384.3 370.5,385.1 369.6,386C368.8,386.9 368,387.7 367.3,388.6C366.6,389.5 365.9,390.4 365.3,391.3C364.7,392.2 364.2,393.1 363.7,394C363.2,394.9 362.8,395.8 362.4,396.7C362,397.6 361.7,398.5 361.5,399.4C361.2,400.3 361,401.2 360.8,402.1C360.7,402.9 360.6,403.8 360.5,404.6C360.5,405.4 360.5,406.2 360.5,407C360.5,407.8 360.7,408.9 360.7,409.3C360.7,409.3 360.7,409.3 360.7,409.3C360.8,408.9 360.9,407.8 361,407.1C361.2,406.3 361.3,405.5 361.5,404.8C361.8,404 362,403.2 362.3,402.5C362.6,401.7 362.9,400.9 363.3,400.1C363.7,399.3 364.1,398.6 364.5,397.8C365,397 365.5,396.2 366,395.4C366.6,394.7 367.2,393.9 367.8,393.1C368.4,392.4 369.1,391.6 369.8,390.8C370.6,390.1 371.3,389.4 372.1,388.6C373,387.9 373.8,387.2 374.7,386.5C375.7,385.8 376.6,385.1 377.6,384.5C378.6,383.8 379.7,383.2 380.8,382.5C381.9,381.9 383,381.3 384.2,380.8C385.3,380.2 386.6,379.7 387.8,379.2C389.1,378.7 390.4,378.2 391.7,377.8C393.1,377.3 394.4,376.9 395.8,376.6C397.2,376.2 398.7,375.9 400.1,375.6C401.6,375.3 403.1,375.1 404.6,374.9C406.1,374.7 407.7,374.5 409.2,374.4C410.8,374.3 412.4,374.2 414,374.2C415.5,374.2 417.2,374.2 418.8,374.3C420.4,374.4 422,374.5 423.6,374.7C425.2,374.9 426.9,375.1 428.5,375.4C430.1,375.7 431.7,376.1 433.3,376.5C434.9,376.9 436.5,377.3 438.1,377.8C439.7,378.3 441.2,378.9 442.8,379.5C444.3,380.1 445.8,380.7 447.3,381.4C448.8,382.1 450.2,382.9 451.6,383.7C453.1,384.5 454.4,385.3 455.8,386.2C457.1,387.1 458.4,388 459.7,389C460.9,390 462.2,391 463.3,392.1C464.5,393.1 465.6,394.2 466.6,395.3C467.7,396.5 468.7,397.6 469.6,398.8C470.6,400 471.5,401.3 472.3,402.5C473.1,403.8 473.8,405 474.5,406.3C475.2,407.6 475.9,409 476.4,410.3C477,411.7 477.5,413 477.9,414.4C478.3,415.8 478.7,417.2 478.9,418.5C479.2,419.9 479.4,421.4 479.6,422.8C479.7,424.2 479.8,425.6 479.8,427C479.8,428.4 479.7,429.8 479.6,431.2C479.4,432.6 479.2,434.1 478.9,435.5C478.7,436.8 478.3,438.2 477.9,439.6C477.5,441 477,442.3 476.4,443.7C475.9,445 475.2,446.4 474.5,447.7C473.8,449 473.1,450.2 472.3,451.5C471.5,452.7 470.6,454 469.6,455.2C468.7,456.4 467.7,457.5 466.6,458.7C465.6,459.8 464.5,460.9 463.3,461.9C462.2,463 460.9,464 459.7,465C458.4,466 457.1,466.9 455.8,467.8C454.4,468.7 453.1,469.5 451.6,470.3C450.2,471.1 448.8,471.9 447.3,472.6C445.8,473.3 444.3,473.9 442.8,474.5C441.2,475.1 439.7,475.7 438.1,476.2C436.5,476.7 434.9,477.1 433.3,477.5C431.7,477.9 430.1,478.3 428.5,478.6C426.9,478.9 425.2,479.1 423.6,479.3C422,479.5 420.4,479.6 418.8,479.7C417.2,479.8 415.5,479.8 414,479.8C412.4,479.8 410.8,479.7 409.2,479.6C407.7,479.5 406.1,479.3 404.6,479.1C403.1,478.9 401.6,478.7 400.1,478.4C398.7,478.1 397.2,477.8 395.8,477.4C394.4,477.1 393.1,476.7 391.7,476.2C390.4,475.8 389.1,475.3 387.8,474.8C386.6,474.3 385.3,473.8 384.2,473.2C383,472.7 381.9,472.1 380.8,471.5C379.7,470.8 378.6,470.2 377.6,469.5C376.6,468.9 375.7,468.2 374.7,467.5C373.8,466.8 373,466.1 372.1,465.4C371.3,464.6 370.6,463.9 369.8,463.2C369.1,462.4 368.4,461.6 367.8,460.9C367.2,460.1 366.6,459.3 366,458.6C365.5,457.8 365,457 364.5,456.2C364.1,455.4 363.7,454.7 363.3,453.9C362.9,453.1 362.6,452.3 362.3,451.5C362,450.8 361.8,450 361.5,449.2C361.3,448.5 361.2,447.7 361,446.9C360.9,446.2 360.8,445.1 360.7,444.7C360.7,444.7 360.7,444.7 360.7,444.7Z" fill="#f9cf95"/>
<path d="M354.7,449.1C354.7,449.6 354.5,450.9 354.5,451.9C354.4,452.9 354.4,453.9 354.5,454.9C354.6,456 354.7,457 354.9,458.1C355.1,459.2 355.3,460.3 355.6,461.4C355.9,462.5 356.3,463.6 356.7,464.7C357.2,465.8 357.7,466.9 358.2,468.1C358.8,469.2 359.4,470.3 360.1,471.4C360.8,472.5 361.6,473.7 362.5,474.7C363.3,475.8 364.2,476.9 365.2,478C366.1,479.1 367.2,480.1 368.3,481.1C369.4,482.1 370.6,483.1 371.8,484.1C373,485.1 374.3,486 375.7,486.9C377,487.8 378.4,488.6 379.9,489.5C381.4,490.3 382.9,491.1 384.5,491.8C386,492.5 387.7,493.2 389.4,493.8C391,494.4 392.7,495 394.5,495.5C396.3,496.1 398.1,496.5 399.9,496.9C401.8,497.3 403.6,497.7 405.5,498C407.4,498.2 409.4,498.5 411.3,498.6C413.3,498.8 415.3,498.9 417.3,498.9C419.3,498.9 421.3,498.9 423.3,498.8C425.3,498.7 427.3,498.5 429.4,498.2C431.4,498 433.4,497.7 435.5,497.3C437.5,496.9 439.5,496.4 441.5,495.9C443.5,495.4 445.5,494.8 447.5,494.1C449.5,493.4 451.5,492.7 453.4,491.9C455.3,491.1 457.2,490.2 459.1,489.3C461,488.4 462.8,487.3 464.6,486.3C466.4,485.2 468.1,484.1 469.8,482.9C471.5,481.7 473.2,480.4 474.8,479.1C476.4,477.8 477.9,476.4 479.4,475C480.8,473.6 482.3,472.1 483.6,470.5C485,469 486.2,467.4 487.4,465.8C488.7,464.2 489.8,462.5 490.8,460.8C491.9,459.1 492.9,457.3 493.8,455.5C494.7,453.8 495.5,451.9 496.2,450.1C496.9,448.2 497.6,446.4 498.1,444.5C498.7,442.6 499.1,440.6 499.5,438.7C499.9,436.8 500.1,434.8 500.3,432.9C500.5,430.9 500.6,429 500.6,427C500.6,425 500.5,423.1 500.3,421.1C500.1,419.2 499.9,417.2 499.5,415.3C499.1,413.4 498.7,411.4 498.1,409.5C497.6,407.6 496.9,405.8 496.2,403.9C495.5,402.1 494.7,400.2 493.8,398.5C492.9,396.7 491.9,394.9 490.8,393.2C489.8,391.5 488.7,389.8 487.4,388.2C486.2,386.6 485,385 483.6,383.5C482.3,381.9 480.8,380.4 479.4,379C477.9,377.6 476.4,376.2 474.8,374.9C473.2,373.6 471.5,372.3 469.8,371.1C468.1,369.9 466.4,368.8 464.6,367.7C462.8,366.7 461,365.6 459.1,364.7C457.2,363.8 455.3,362.9 453.4,362.1C451.5,361.3 449.5,360.6 447.5,359.9C445.5,359.2 443.5,358.6 441.5,358.1C439.5,357.6 437.5,357.1 435.5,356.7C433.4,356.3 431.4,356 429.4,355.8C427.3,355.5 425.3,355.3 423.3,355.2C421.3,355.1 419.3,355.1 417.3,355.1C415.3,355.1 413.3,355.2 411.3,355.4C409.4,355.5 407.4,355.8 405.5,356C403.6,356.3 401.8,356.7 399.9,357.1C398.1,357.5 396.3,357.9 394.5,358.5C392.7,359 391,359.6 389.4,360.2C387.7,360.8 386,361.5 384.5,362.2C382.9,362.9 381.4,363.7 379.9,364.5C378.4,365.4 377,366.2 375.7,367.1C374.3,368 373,368.9 371.8,369.9C370.6,370.9 369.4,371.9 368.3,372.9C367.2,373.9 366.1,374.9 365.2,376C364.2,377.1 363.3,378.2 362.5,379.3C361.6,380.3 360.8,381.5 360.1,382.6C359.4,383.7 358.8,384.8 358.2,385.9C357.7,387.1 357.2,388.2 356.7,389.3C356.3,390.4 355.9,391.5 355.6,392.6C355.3,393.7 355.1,394.8 354.9,395.9C354.7,397 354.6,398 354.5,399.1C354.4,400.1 354.4,401.1 354.5,402.1C354.5,403.1 354.7,404.4 354.7,404.9C354.7,404.9 354.7,404.9 354.7,404.9C354.8,404.5 354.9,403.1 355.1,402.1C355.2,401.2 355.4,400.2 355.7,399.3C355.9,398.3 356.2,397.3 356.6,396.3C356.9,395.4 357.3,394.4 357.7,393.4C358.2,392.4 358.7,391.4 359.2,390.5C359.7,389.5 360.3,388.5 361,387.5C361.6,386.5 362.3,385.6 363,384.6C363.8,383.6 364.6,382.7 365.5,381.7C366.3,380.8 367.2,379.9 368.2,379C369.2,378.1 370.2,377.2 371.2,376.3C372.3,375.4 373.5,374.6 374.6,373.7C375.8,372.9 377,372.1 378.3,371.3C379.6,370.6 381,369.8 382.3,369.1C383.7,368.4 385.2,367.7 386.6,367.1C388.1,366.5 389.7,365.9 391.2,365.4C392.8,364.8 394.4,364.3 396,363.8C397.7,363.4 399.4,363 401.1,362.6C402.8,362.3 404.6,362 406.4,361.7C408.1,361.5 409.9,361.3 411.8,361.1C413.6,361 415.5,360.9 417.3,360.9C419.2,360.9 421.1,360.9 423,361C424.9,361.1 426.8,361.3 428.7,361.5C430.6,361.8 432.5,362.1 434.4,362.4C436.3,362.8 438.2,363.2 440.1,363.7C441.9,364.2 443.8,364.8 445.7,365.4C447.5,366 449.4,366.7 451.2,367.4C453,368.2 454.7,369 456.5,369.9C458.2,370.8 459.9,371.7 461.6,372.7C463.3,373.7 464.9,374.8 466.5,375.9C468.1,377 469.6,378.1 471.1,379.4C472.5,380.6 474,381.9 475.3,383.2C476.7,384.5 478,385.9 479.3,387.3C480.5,388.7 481.7,390.2 482.8,391.6C483.9,393.1 484.9,394.7 485.9,396.3C486.9,397.8 487.8,399.4 488.6,401.1C489.4,402.7 490.1,404.4 490.8,406C491.5,407.7 492,409.4 492.5,411.2C493,412.9 493.5,414.6 493.8,416.4C494.1,418.1 494.4,419.9 494.5,421.7C494.7,423.4 494.8,425.2 494.8,427C494.8,428.8 494.7,430.6 494.5,432.3C494.4,434.1 494.1,435.9 493.8,437.6C493.5,439.4 493,441.1 492.5,442.8C492,444.6 491.5,446.3 490.8,448C490.1,449.6 489.4,451.3 488.6,452.9C487.8,454.6 486.9,456.2 485.9,457.7C484.9,459.3 483.9,460.9 482.8,462.4C481.7,463.8 480.5,465.3 479.3,466.7C478,468.1 476.7,469.5 475.3,470.8C474,472.1 472.5,473.4 471.1,474.6C469.6,475.9 468.1,477 466.5,478.1C464.9,479.2 463.3,480.3 461.6,481.3C459.9,482.3 458.2,483.2 456.5,484.1C454.7,485 453,485.8 451.2,486.6C449.4,487.3 447.5,488 445.7,488.6C443.8,489.2 441.9,489.8 440.1,490.3C438.2,490.8 436.3,491.2 434.4,491.6C432.5,491.9 430.6,492.2 428.7,492.5C426.8,492.7 424.9,492.9 423,493C421.1,493.1 419.2,493.1 417.3,493.1C415.5,493.1 413.6,493 411.8,492.9C409.9,492.7 408.1,492.5 406.4,492.3C404.6,492 402.8,491.7 401.1,491.4C399.4,491 397.7,490.6 396,490.2C394.4,489.7 392.8,489.2 391.2,488.6C389.7,488.1 388.1,487.5 386.6,486.9C385.2,486.3 383.7,485.6 382.3,484.9C381,484.2 379.6,483.4 378.3,482.7C377,481.9 375.8,481.1 374.6,480.3C373.5,479.4 372.3,478.6 371.2,477.7C370.2,476.8 369.2,475.9 368.2,475C367.2,474.1 366.3,473.2 365.5,472.3C364.6,471.3 363.8,470.4 363,469.4C362.3,468.4 361.6,467.5 361,466.5C360.3,465.5 359.7,464.5 359.2,463.5C358.7,462.6 358.2,461.6 357.7,460.6C357.3,459.6 356.9,458.6 356.6,457.7C356.2,456.7 355.9,455.7 355.7,454.7C355.4,453.8 355.2,452.8 355.1,451.9C354.9,450.9 354.8,449.5 354.7,449.1C354.7,449.1 354.7,449.1 354.7,449.1Z" fill="#f9cf95"/>
<path d="M349,453.6C349,454.1 348.7,455.8 348.7,457C348.6,458.2 348.7,459.4 348.7,460.6C348.8,461.8 348.9,463.1 349.1,464.4C349.3,465.7 349.6,467 350,468.3C350.3,469.6 350.7,471 351.2,472.3C351.7,473.6 352.3,475 352.9,476.4C353.6,477.7 354.3,479.1 355.1,480.4C355.9,481.7 356.8,483.1 357.7,484.4C358.7,485.7 359.7,487 360.8,488.3C361.9,489.6 363.1,490.8 364.3,492.1C365.6,493.3 366.9,494.5 368.3,495.6C369.7,496.8 371.2,497.9 372.8,499C374.3,500.1 375.9,501.1 377.6,502.1C379.3,503.1 381,504 382.8,504.9C384.6,505.8 386.5,506.6 388.4,507.4C390.3,508.1 392.3,508.8 394.3,509.4C396.3,510.1 398.4,510.6 400.5,511.1C402.6,511.6 404.7,512 406.9,512.4C409.1,512.7 411.3,513 413.5,513.2C415.8,513.4 418,513.5 420.3,513.5C422.6,513.5 424.9,513.5 427.2,513.3C429.5,513.2 431.8,513 434.2,512.7C436.5,512.4 438.8,512 441.1,511.5C443.5,511.1 445.8,510.5 448.1,509.9C450.4,509.2 452.7,508.5 454.9,507.7C457.2,506.9 459.4,506 461.6,505.1C463.8,504.1 466,503 468.1,501.9C470.3,500.8 472.4,499.6 474.4,498.3C476.5,497 478.5,495.6 480.4,494.2C482.3,492.7 484.2,491.2 486,489.6C487.9,488.1 489.6,486.4 491.3,484.7C493,483 494.6,481.2 496.1,479.3C497.7,477.5 499.1,475.6 500.5,473.6C501.9,471.7 503.2,469.6 504.4,467.6C505.6,465.5 506.7,463.4 507.7,461.3C508.7,459.1 509.7,456.9 510.5,454.7C511.3,452.5 512,450.2 512.7,448C513.3,445.7 513.8,443.4 514.2,441.1C514.7,438.7 515,436.4 515.2,434.1C515.4,431.7 515.5,429.4 515.5,427C515.5,424.6 515.4,422.3 515.2,419.9C515,417.6 514.7,415.3 514.2,412.9C513.8,410.6 513.3,408.3 512.7,406C512,403.8 511.3,401.5 510.5,399.3C509.7,397.1 508.7,394.9 507.7,392.7C506.7,390.6 505.6,388.5 504.4,386.4C503.2,384.4 501.9,382.3 500.5,380.4C499.1,378.4 497.7,376.5 496.1,374.7C494.6,372.8 493,371 491.3,369.3C489.6,367.6 487.9,365.9 486,364.4C484.2,362.8 482.3,361.3 480.4,359.8C478.5,358.4 476.5,357 474.4,355.7C472.4,354.4 470.3,353.2 468.1,352.1C466,351 463.8,349.9 461.6,348.9C459.4,348 457.2,347.1 454.9,346.3C452.7,345.5 450.4,344.8 448.1,344.1C445.8,343.5 443.5,342.9 441.1,342.5C438.8,342 436.5,341.6 434.2,341.3C431.8,341 429.5,340.8 427.2,340.7C424.9,340.5 422.6,340.5 420.3,340.5C418,340.5 415.8,340.6 413.5,340.8C411.3,341 409.1,341.3 406.9,341.6C404.7,342 402.6,342.4 400.5,342.9C398.4,343.4 396.3,343.9 394.3,344.6C392.3,345.2 390.3,345.9 388.4,346.6C386.5,347.4 384.6,348.2 382.8,349.1C381,350 379.3,350.9 377.6,351.9C375.9,352.9 374.3,353.9 372.8,355C371.2,356.1 369.7,357.2 368.3,358.4C366.9,359.5 365.6,360.7 364.3,361.9C363.1,363.2 361.9,364.4 360.8,365.7C359.7,367 358.7,368.3 357.7,369.6C356.8,370.9 355.9,372.3 355.1,373.6C354.3,374.9 353.6,376.3 352.9,377.6C352.3,379 351.7,380.4 351.2,381.7C350.7,383 350.3,384.4 350,385.7C349.6,387 349.3,388.3 349.1,389.6C348.9,390.9 348.8,392.2 348.7,393.4C348.7,394.6 348.6,395.8 348.7,397C348.7,398.2 349,399.9 349,400.4C349,400.4 349,400.4 349,400.4C349.1,399.9 349.3,398.2 349.4,397.1C349.6,395.9 349.9,394.8 350.2,393.6C350.4,392.5 350.8,391.3 351.2,390.1C351.6,388.9 352,387.8 352.5,386.6C353,385.4 353.6,384.2 354.2,383C354.8,381.8 355.5,380.6 356.2,379.5C357,378.3 357.8,377.1 358.6,376C359.5,374.8 360.4,373.7 361.4,372.5C362.4,371.4 363.4,370.3 364.5,369.2C365.6,368.1 366.8,367 368,366C369.2,364.9 370.5,363.9 371.9,362.9C373.2,361.9 374.6,360.9 376.1,360C377.6,359.1 379.1,358.2 380.7,357.4C382.2,356.5 383.9,355.7 385.5,355C387.2,354.2 389,353.5 390.7,352.8C392.5,352.2 394.4,351.6 396.2,351C398.1,350.5 400,350 402,349.6C403.9,349.1 405.9,348.8 407.9,348.5C410,348.2 412,347.9 414.1,347.8C416.2,347.6 418.3,347.5 420.4,347.5C422.5,347.5 424.7,347.5 426.8,347.7C428.9,347.8 431.1,348 433.3,348.3C435.4,348.5 437.6,348.9 439.8,349.3C441.9,349.8 444.1,350.3 446.2,350.9C448.3,351.5 450.5,352.1 452.6,352.9C454.7,353.6 456.8,354.4 458.8,355.3C460.9,356.2 462.9,357.2 464.9,358.3C466.8,359.3 468.8,360.5 470.7,361.6C472.6,362.8 474.4,364.1 476.2,365.4C478,366.8 479.8,368.2 481.5,369.6C483.1,371.1 484.8,372.6 486.3,374.2C487.9,375.8 489.4,377.5 490.8,379.2C492.2,380.9 493.5,382.6 494.8,384.4C496.1,386.2 497.2,388.1 498.3,389.9C499.4,391.8 500.5,393.8 501.4,395.7C502.3,397.7 503.2,399.7 503.9,401.7C504.7,403.8 505.3,405.8 505.9,407.9C506.5,410 507,412.1 507.3,414.2C507.7,416.3 508,418.4 508.2,420.6C508.4,422.7 508.5,424.9 508.5,427C508.5,429.1 508.4,431.3 508.2,433.4C508,435.6 507.7,437.7 507.3,439.8C507,441.9 506.5,444 505.9,446.1C505.3,448.2 504.7,450.2 503.9,452.3C503.2,454.3 502.3,456.3 501.4,458.3C500.5,460.2 499.4,462.2 498.3,464.1C497.2,465.9 496.1,467.8 494.8,469.6C493.5,471.4 492.2,473.1 490.8,474.8C489.4,476.5 487.9,478.2 486.3,479.8C484.8,481.4 483.1,482.9 481.5,484.4C479.8,485.8 478,487.2 476.2,488.6C474.4,489.9 472.6,491.2 470.7,492.4C468.8,493.5 466.8,494.7 464.9,495.7C462.9,496.8 460.9,497.8 458.8,498.7C456.8,499.6 454.7,500.4 452.6,501.1C450.5,501.9 448.3,502.5 446.2,503.1C444.1,503.7 441.9,504.2 439.8,504.7C437.6,505.1 435.4,505.5 433.3,505.7C431.1,506 428.9,506.2 426.8,506.3C424.7,506.5 422.5,506.5 420.4,506.5C418.3,506.5 416.2,506.4 414.1,506.2C412,506.1 410,505.8 407.9,505.5C405.9,505.2 403.9,504.9 402,504.4C400,504 398.1,503.5 396.2,503C394.4,502.4 392.5,501.8 390.7,501.2C389,500.5 387.2,499.8 385.5,499C383.9,498.3 382.2,497.5 380.7,496.6C379.1,495.8 377.6,494.9 376.1,494C374.6,493.1 373.2,492.1 371.9,491.1C370.5,490.1 369.2,489.1 368,488C366.8,487 365.6,485.9 364.5,484.8C363.4,483.7 362.4,482.6 361.4,481.5C360.4,480.3 359.5,479.2 358.6,478C357.8,476.9 357,475.7 356.2,474.5C355.5,473.4 354.8,472.2 354.2,471C353.6,469.8 353,468.6 352.5,467.4C352,466.2 351.6,465.1 351.2,463.9C350.8,462.7 350.4,461.5 350.2,460.4C349.9,459.2 349.6,458.1 349.4,456.9C349.3,455.8 349.1,454.1 349,453.6C349,453.6 349,453.6 349,453.6Z" fill="#f9cf95"/>
<path d="M341.5,458.5C341.5,459.1 341.3,461.1 341.2,462.5C341.2,463.9 341.2,465.3 341.3,466.8C341.4,468.2 341.6,469.7 341.9,471.2C342.1,472.7 342.4,474.2 342.9,475.8C343.3,477.3 343.7,478.9 344.3,480.5C344.9,482 345.5,483.6 346.3,485.2C347,486.7 347.8,488.3 348.7,489.9C349.6,491.4 350.6,493 351.7,494.5C352.8,496.1 353.9,497.6 355.2,499.1C356.4,500.6 357.7,502 359.1,503.5C360.6,504.9 362,506.3 363.6,507.6C365.2,509 366.9,510.3 368.6,511.6C370.3,512.8 372.1,514 374,515.2C375.9,516.3 377.8,517.4 379.9,518.4C381.9,519.5 384,520.4 386.1,521.3C388.3,522.2 390.5,523 392.7,523.7C395,524.5 397.3,525.1 399.7,525.7C402,526.3 404.4,526.8 406.9,527.2C409.3,527.6 411.8,527.9 414.3,528.1C416.8,528.3 419.4,528.5 421.9,528.5C424.5,528.5 427.1,528.5 429.7,528.3C432.2,528.1 434.9,527.9 437.5,527.5C440.1,527.2 442.7,526.7 445.3,526.2C447.9,525.6 450.5,525 453.1,524.2C455.6,523.5 458.2,522.6 460.7,521.7C463.3,520.7 465.8,519.7 468.3,518.6C470.7,517.4 473.2,516.2 475.6,514.8C477.9,513.5 480.3,512.1 482.6,510.6C484.9,509.1 487.1,507.4 489.3,505.8C491.5,504.1 493.6,502.3 495.6,500.4C497.6,498.6 499.6,496.6 501.5,494.6C503.4,492.6 505.2,490.5 506.9,488.3C508.6,486.1 510.3,483.9 511.8,481.6C513.3,479.3 514.8,476.9 516.1,474.5C517.4,472.1 518.7,469.6 519.8,467.1C521,464.6 522,462 522.9,459.4C523.8,456.8 524.6,454.2 525.3,451.5C526,448.9 526.6,446.2 527.1,443.5C527.6,440.7 527.9,438 528.1,435.3C528.4,432.5 528.5,429.8 528.5,427C528.5,424.2 528.4,421.5 528.1,418.7C527.9,416 527.6,413.3 527.1,410.5C526.6,407.8 526,405.1 525.3,402.5C524.6,399.8 523.8,397.2 522.9,394.6C522,392 521,389.4 519.8,386.9C518.7,384.4 517.4,381.9 516.1,379.5C514.8,377.1 513.3,374.7 511.8,372.4C510.3,370.1 508.6,367.9 506.9,365.7C505.2,363.5 503.4,361.4 501.5,359.4C499.6,357.4 497.6,355.4 495.6,353.6C493.6,351.7 491.5,349.9 489.3,348.2C487.1,346.6 484.9,344.9 482.6,343.4C480.3,341.9 477.9,340.5 475.6,339.2C473.2,337.8 470.7,336.6 468.3,335.4C465.8,334.3 463.3,333.3 460.7,332.3C458.2,331.4 455.6,330.5 453.1,329.8C450.5,329 447.9,328.4 445.3,327.8C442.7,327.3 440.1,326.8 437.5,326.5C434.9,326.1 432.2,325.9 429.7,325.7C427.1,325.5 424.5,325.5 421.9,325.5C419.4,325.5 416.8,325.7 414.3,325.9C411.8,326.1 409.3,326.4 406.9,326.8C404.4,327.2 402,327.7 399.7,328.3C397.3,328.9 395,329.5 392.7,330.3C390.5,331 388.3,331.8 386.1,332.7C384,333.6 381.9,334.5 379.9,335.6C377.8,336.6 375.9,337.7 374,338.8C372.1,340 370.3,341.2 368.6,342.4C366.9,343.7 365.2,345 363.6,346.4C362,347.7 360.6,349.1 359.1,350.5C357.7,352 356.4,353.4 355.2,354.9C353.9,356.4 352.8,357.9 351.7,359.5C350.6,361 349.6,362.6 348.7,364.1C347.8,365.7 347,367.3 346.3,368.8C345.5,370.4 344.9,372 344.3,373.5C343.7,375.1 343.3,376.7 342.9,378.2C342.4,379.8 342.1,381.3 341.9,382.8C341.6,384.3 341.4,385.8 341.3,387.2C341.2,388.7 341.2,390.1 341.2,391.5C341.3,392.9 341.5,394.9 341.5,395.5C341.5,395.5 341.5,395.5 341.5,395.5C341.6,394.9 341.7,392.9 341.9,391.5C342.1,390.2 342.4,388.8 342.7,387.4C343,386 343.3,384.6 343.7,383.2C344.2,381.8 344.7,380.4 345.2,379C345.8,377.6 346.4,376.1 347.1,374.7C347.8,373.3 348.5,371.8 349.3,370.4C350.2,369 351,367.6 352,366.2C353,364.8 354,363.4 355.1,362C356.2,360.7 357.4,359.3 358.6,358C359.9,356.7 361.2,355.4 362.6,354.1C364,352.9 365.4,351.6 367,350.4C368.5,349.2 370.1,348.1 371.7,346.9C373.4,345.8 375.1,344.8 376.9,343.7C378.7,342.7 380.6,341.8 382.5,340.9C384.4,339.9 386.3,339.1 388.4,338.3C390.4,337.5 392.5,336.8 394.6,336.1C396.7,335.5 398.9,334.9 401.1,334.4C403.3,333.9 405.6,333.4 407.9,333.1C410.2,332.7 412.5,332.4 414.8,332.2C417.2,332 419.6,331.9 422,331.9C424.4,331.9 426.8,331.9 429.3,332.1C431.7,332.2 434.2,332.5 436.6,332.8C439,333.1 441.5,333.6 444,334.1C446.4,334.6 448.8,335.2 451.3,335.9C453.7,336.6 456.1,337.4 458.5,338.3C460.9,339.2 463.2,340.2 465.6,341.3C467.9,342.3 470.2,343.5 472.4,344.7C474.7,346 476.9,347.3 479,348.8C481.2,350.2 483.3,351.7 485.3,353.3C487.4,354.9 489.4,356.6 491.3,358.3C493.2,360.1 495,361.9 496.8,363.8C498.6,365.7 500.3,367.6 501.9,369.7C503.5,371.7 505,373.8 506.5,376C507.9,378.1 509.3,380.3 510.5,382.6C511.8,384.8 512.9,387.2 514,389.5C515.1,391.9 516,394.3 516.9,396.7C517.7,399.1 518.5,401.6 519.1,404.1C519.8,406.6 520.3,409.1 520.8,411.6C521.2,414.2 521.6,416.7 521.8,419.3C522,421.9 522.1,424.4 522.1,427C522.1,429.6 522,432.1 521.8,434.7C521.6,437.3 521.2,439.8 520.8,442.4C520.3,444.9 519.8,447.4 519.1,449.9C518.5,452.4 517.7,454.9 516.9,457.3C516,459.7 515.1,462.1 514,464.5C512.9,466.8 511.8,469.2 510.5,471.4C509.3,473.7 507.9,475.9 506.5,478C505,480.2 503.5,482.3 501.9,484.3C500.3,486.4 498.6,488.3 496.8,490.2C495,492.1 493.2,493.9 491.3,495.7C489.4,497.4 487.4,499.1 485.3,500.7C483.3,502.3 481.2,503.8 479,505.2C476.9,506.7 474.7,508 472.4,509.3C470.2,510.5 467.9,511.7 465.6,512.7C463.2,513.8 460.9,514.8 458.5,515.7C456.1,516.6 453.7,517.4 451.3,518.1C448.8,518.8 446.4,519.4 444,519.9C441.5,520.4 439,520.9 436.6,521.2C434.2,521.5 431.7,521.8 429.3,521.9C426.8,522.1 424.4,522.1 422,522.1C419.6,522.1 417.2,522 414.8,521.8C412.5,521.6 410.2,521.3 407.9,520.9C405.6,520.6 403.3,520.1 401.1,519.6C398.9,519.1 396.7,518.5 394.6,517.9C392.5,517.2 390.4,516.5 388.4,515.7C386.3,514.9 384.4,514.1 382.5,513.1C380.6,512.2 378.7,511.3 376.9,510.3C375.1,509.2 373.4,508.2 371.7,507.1C370.1,505.9 368.5,504.8 367,503.6C365.4,502.4 364,501.1 362.6,499.9C361.2,498.6 359.9,497.3 358.6,496C357.4,494.7 356.2,493.3 355.1,492C354,490.6 353,489.2 352,487.8C351,486.4 350.2,485 349.3,483.6C348.5,482.2 347.8,480.7 347.1,479.3C346.4,477.9 345.8,476.4 345.2,475C344.7,473.6 344.2,472.2 343.7,470.8C343.3,469.4 343,468 342.7,466.6C342.4,465.2 342.1,463.8 341.9,462.5C341.7,461.1 341.6,459.1 341.5,458.5C341.5,458.5 341.5,458.5 341.5,458.5Z" fill="#f9cf95"/>
<ellipse cx="302.3" cy="435" rx="7" ry="25.7" fill="#ea1c24"/></g>
<g fill="none" stroke="#666666" stroke-width="2.4">
<rect x="614.6" y="221.4" width="102.8" height="180.2" stroke-dasharray="26.3 14.13" stroke-dashoffset="-10.7"/>
<line x1="716.5" y1="218" x2="786.2" y2="84.5" stroke-dasharray="26.3 15.1"/>
<line x1="719.2" y1="407.6" x2="786" y2="539" stroke-dasharray="26.3 14"/>
</g>
<rect x="786.6" y="84.6" width="252.1" height="454.2" fill="#fff" stroke="#666666" stroke-width="2.6"/>
<g clip-path="url(#ci)">
<path d="M780,80L794.3,90.7C797.5,98.1 807,120.2 813.3,134.9C819.5,149.7 825.7,164.4 831.7,179.2C837.8,193.9 843.8,208.6 849.5,223.4C855.3,238.1 861,252.9 866.4,267.6C871.8,282.4 877.1,297.1 882.1,311.9C887.1,326.6 892,341.3 896.5,356.1C901,370.8 905.3,385.6 909.2,400.3C913.2,415.1 916.9,429.8 920.2,444.5C923.5,459.3 926.5,474 929.1,488.8C931.6,503.5 934.6,525.6 935.7,533L780,540Z" fill="#e7f8fd"/>
<path d="M792.1,212C794.4,218.7 801.5,238.8 806,252.1C810.5,265.5 814.9,278.9 819.1,292.2C823.3,305.6 827.4,319 831.3,332.4C835.1,345.8 838.8,359.1 842.2,372.5C845.6,385.9 848.8,399.2 851.7,412.6C854.6,426 857.3,439.4 859.6,452.8C861.9,466.1 864,479.5 865.6,492.9C867.3,506.2 869,526.3 869.6,533L780,540L780,212Z" fill="#bde6fa"/>
<path d="M794.3,90.7C797.5,98.1 807,120.2 813.3,134.9C819.5,149.7 825.7,164.4 831.7,179.2C837.8,193.9 843.8,208.6 849.5,223.4C855.3,238.1 861,252.9 866.4,267.6C871.8,282.4 877.1,297.1 882.1,311.9C887.1,326.6 892,341.3 896.5,356.1C901,370.8 905.3,385.6 909.2,400.3C913.2,415.1 916.9,429.8 920.2,444.5C923.5,459.3 926.5,474 929.1,488.8C931.6,503.5 934.6,525.6 935.7,533L948,533C946.9,525.6 944.1,503.5 941.5,488.8C939,474 936.1,459.3 932.8,444.5C929.6,429.8 925.9,415.1 922,400.3C918.1,385.6 913.9,370.8 909.4,356.1C905,341.3 900.2,326.6 895.3,311.9C890.3,297.1 885.1,282.4 879.7,267.6C874.3,252.9 868.7,238.1 863,223.4C857.3,208.6 851.4,193.9 845.4,179.2C839.4,164.4 833.3,149.7 827.1,134.9C820.9,120.2 811.4,98.1 808.3,90.7Z" fill="#629bd5"/>
<path d="M822.3,90.7C825.4,98.1 834.9,120.2 841.1,134.9C847.3,149.7 853.4,164.4 859.4,179.2C865.4,193.9 871.3,208.6 877.1,223.4C882.8,238.1 888.4,252.9 893.8,267.6C899.1,282.4 904.4,297.1 909.3,311.9C914.3,326.6 919,341.3 923.5,356.1C928,370.8 932.2,385.6 936.1,400.3C940,415.1 943.6,429.8 946.9,444.5C950.1,459.3 953.1,474 955.6,488.8C958.2,503.5 961,525.6 962.1,533L974.1,533C973,525.6 970.2,503.5 967.7,488.8C965.3,474 962.4,459.3 959.1,444.5C955.9,429.8 952.3,415.1 948.5,400.3C944.6,385.6 940.5,370.8 936,356.1C931.6,341.3 926.9,326.6 922,311.9C917.1,297.1 911.9,282.4 906.5,267.6C901.2,252.9 895.6,238.1 890,223.4C884.3,208.6 878.4,193.9 872.5,179.2C866.5,164.4 860.4,149.7 854.3,134.9C848.1,120.2 838.7,98.1 835.6,90.7Z" fill="#629bd5"/>
<path d="M835.6,90.7C838.7,98.1 848.1,120.2 854.3,134.9C860.4,149.7 866.5,164.4 872.5,179.2C878.4,193.9 884.3,208.6 890,223.4C895.6,238.1 901.2,252.9 906.5,267.6C911.9,282.4 917.1,297.1 922,311.9C926.9,326.6 931.6,341.3 936,356.1C940.5,370.8 944.6,385.6 948.5,400.3C952.3,415.1 955.9,429.8 959.1,444.5C962.4,459.3 965.3,474 967.7,488.8C970.2,503.5 973,525.6 974.1,533L987.4,533C986.4,525.6 983.6,503.5 981.2,488.8C978.7,474 975.9,459.3 972.7,444.5C969.6,429.8 966,415.1 962.2,400.3C958.4,385.6 954.3,370.8 949.9,356.1C945.5,341.3 940.8,326.6 936,311.9C931.1,297.1 926,282.4 920.7,267.6C915.4,252.9 909.9,238.1 904.2,223.4C898.6,208.6 892.8,193.9 886.9,179.2C881,164.4 874.9,149.7 868.8,134.9C862.7,120.2 853.4,98.1 850.3,90.7Z" fill="#eff4fc"/>
<path d="M850.3,90.7C853.4,98.1 862.7,120.2 868.8,134.9C874.9,149.7 881,164.4 886.9,179.2C892.8,193.9 898.6,208.6 904.2,223.4C909.9,238.1 915.4,252.9 920.7,267.6C926,282.4 931.1,297.1 936,311.9C940.8,326.6 945.5,341.3 949.9,356.1C954.3,370.8 958.4,385.6 962.2,400.3C966,415.1 969.6,429.8 972.7,444.5C975.9,459.3 978.7,474 981.2,488.8C983.6,503.5 986.4,525.6 987.4,533L1006.1,533C1005.1,525.6 1002.5,503.5 1000.1,488.8C997.8,474 995,459.3 991.9,444.5C988.9,429.8 985.4,415.1 981.7,400.3C978,385.6 973.9,370.8 969.6,356.1C965.3,341.3 960.8,326.6 956,311.9C951.2,297.1 946.1,282.4 940.9,267.6C935.7,252.9 930.3,238.1 924.8,223.4C919.2,208.6 913.5,193.9 907.7,179.2C901.9,164.4 895.9,149.7 889.9,134.9C883.9,120.2 874.6,98.1 871.6,90.7Z" fill="#d58538"/>
<path d="M871.6,90.7C874.6,98.1 883.9,120.2 889.9,134.9C895.9,149.7 901.9,164.4 907.7,179.2C913.5,193.9 919.2,208.6 924.8,223.4C930.3,238.1 935.7,252.9 940.9,267.6C946.1,282.4 951.2,297.1 956,311.9C960.8,326.6 965.3,341.3 969.6,356.1C973.9,370.8 978,385.6 981.7,400.3C985.4,415.1 988.9,429.8 991.9,444.5C995,459.3 997.8,474 1000.1,488.8C1002.5,503.5 1005.1,525.6 1006.1,533L1018.5,533C1017.5,525.6 1015,503.5 1012.6,488.8C1010.3,474 1007.6,459.3 1004.5,444.5C1001.5,429.8 998.1,415.1 994.4,400.3C990.7,385.6 986.7,370.8 982.4,356.1C978.2,341.3 973.6,326.6 968.9,311.9C964.1,297.1 959.1,282.4 953.9,267.6C948.8,252.9 943.4,238.1 937.9,223.4C932.4,208.6 926.7,193.9 920.9,179.2C915.1,164.4 909.1,149.7 903.2,134.9C897.2,120.2 888,98.1 885,90.7Z" fill="#b4c8ea"/>
</g>
<line x1="429.8" y1="249.6" x2="162.8" y2="249.6" stroke="#000" stroke-width="3.0"/><polygon points="153.3,249.6 164.8,242.6 164.8,256.6" fill="#000"/>
<line x1="328" y1="341.8" x2="155.2" y2="341.8" stroke="#000" stroke-width="3.0"/><polygon points="145.7,341.8 157.2,334.8 157.2,348.8" fill="#000"/>
<line x1="301" y1="437" x2="150.1" y2="437" stroke="#000" stroke-width="3.0"/><polygon points="140.6,437 152.1,430 152.1,444" fill="#000"/>
<line x1="322" y1="580" x2="158.5" y2="580" stroke="#000" stroke-width="3.0"/><polygon points="149,580 160.5,573 160.5,587" fill="#000"/>
<line x1="375" y1="675.3" x2="211.5" y2="675.3" stroke="#000" stroke-width="3.0"/><polygon points="202,675.3 213.5,668.3 213.5,682.3" fill="#000"/>
<line x1="996.5" y1="438.8" x2="1065.8" y2="438.8" stroke="#000" stroke-width="3.0"/><polygon points="1075.3,438.8 1063.8,445.8 1063.8,431.8" fill="#000"/>
<line x1="990" y1="491.3" x2="1059.8" y2="491.3" stroke="#000" stroke-width="3.0"/><polygon points="1069.3,491.3 1057.8,498.3 1057.8,484.3" fill="#000"/>
<line x1="946.4" y1="523.2" x2="906.3" y2="602.7" stroke="#000" stroke-width="3.0"/><polygon points="902,611.2 900.9,597.8 913.4,604.1" fill="#000"/>
<line x1="968" y1="523.2" x2="1004.1" y2="602.6" stroke="#000" stroke-width="3.0"/><polygon points="1008,611.2 996.9,603.6 1009.6,597.8" fill="#000"/>
<text x="38.5" y="254.2" textLength="106" lengthAdjust="spacingAndGlyphs" font-size="25.6" font-weight="normal" fill="#111">Chalazae</text>
<text x="87.5" y="347.9" textLength="47" lengthAdjust="spacingAndGlyphs" font-size="25.6" font-weight="normal" fill="#111">Yolk</text>
<text x="7" y="443.2" textLength="119.5" lengthAdjust="spacingAndGlyphs" font-size="25.6" font-weight="normal" fill="#111">Blastodisc</text>
<text x="17.5" y="585" textLength="117" lengthAdjust="spacingAndGlyphs" font-size="25.6" font-weight="normal" fill="#111">Egg White</text>
<text x="82" y="682" textLength="108.5" lengthAdjust="spacingAndGlyphs" font-size="25.6" font-weight="normal" fill="#111">Air Space</text>
<text x="1084.5" y="444.8" textLength="80.5" lengthAdjust="spacingAndGlyphs" font-size="25.6" font-weight="normal" fill="#111">Cuticle</text>
<text x="1078.5" y="497.6" textLength="57" lengthAdjust="spacingAndGlyphs" font-size="25.6" font-weight="normal" fill="#111">Shell</text>
<text x="860" y="635.6" textLength="65.5" lengthAdjust="spacingAndGlyphs" font-size="25.6" font-weight="normal" fill="#111">Inner</text>
<text x="731.5" y="666" textLength="194" lengthAdjust="spacingAndGlyphs" font-size="25.6" font-weight="normal" fill="#111">Shell Membrane</text>
<text x="986.5" y="635.6" textLength="68" lengthAdjust="spacingAndGlyphs" font-size="25.6" font-weight="normal" fill="#111">Outer</text>
<text x="986.5" y="666" textLength="194" lengthAdjust="spacingAndGlyphs" font-size="25.6" font-weight="normal" fill="#111">Shell Membrane</text>
<text x="760" y="69.6" textLength="313" lengthAdjust="spacingAndGlyphs" font-size="28" font-weight="bold" fill="#0b0b6b">Shell and Membranes</text>
</svg></body></html>
